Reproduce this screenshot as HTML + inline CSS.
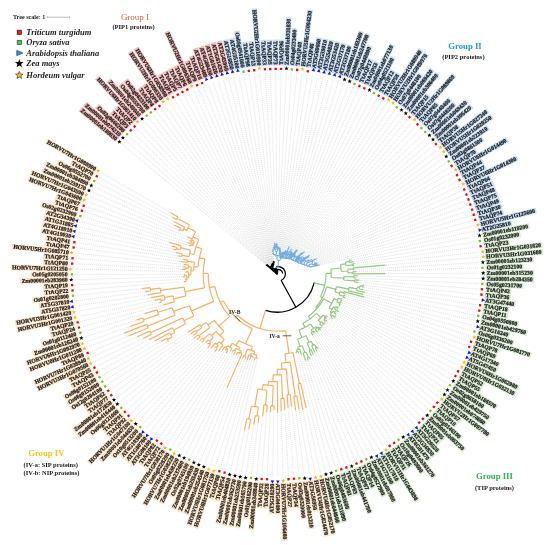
<!DOCTYPE html>
<html lang="en"><head><meta charset="utf-8"><title>Phylogenetic tree of aquaporins</title>
<style>html,body{margin:0;padding:0;background:#fff}body{width:550px;height:545px;overflow:hidden}</style>
</head><body>
<svg width="550" height="545" viewBox="0 0 550 545" style="display:block">
<rect width="550" height="545" fill="#fff"/>
<g stroke="#c2c2c2" stroke-width="0.5" stroke-dasharray="1 1" fill="none">
<path d="M265.5 264.4L122.2 144.2"/>
<path d="M266.4 264.6L125.7 140.1"/>
<path d="M266.4 264.1L129.3 136.2"/>
<path d="M269.5 266.6L132.9 132.4"/>
<path d="M269.3 266.0L136.7 128.7"/>
<path d="M269.8 266.1L140.6 125.0"/>
<path d="M270.4 266.4L144.5 121.5"/>
<path d="M270.2 265.8L148.6 118.1"/>
<path d="M271.0 266.3L152.7 114.7"/>
<path d="M270.9 265.7L156.9 111.5"/>
<path d="M271.5 266.1L161.2 108.4"/>
<path d="M270.7 264.4L165.6 105.5"/>
<path d="M271.0 264.3L170.1 102.6"/>
<path d="M271.6 264.6L174.6 99.8"/>
<path d="M271.2 263.4L179.2 97.2"/>
<path d="M271.5 263.3L183.9 94.7"/>
<path d="M272.1 263.7L188.6 92.3"/>
<path d="M271.9 262.4L193.4 90.1"/>
<path d="M272.2 262.3L198.3 87.9"/>
<path d="M272.7 262.7L203.2 85.9"/>
<path d="M273.0 262.6L208.2 84.0"/>
<path d="M273.1 262.0L213.2 82.3"/>
<path d="M273.1 260.7L218.2 80.7"/>
<path d="M273.4 260.6L223.3 79.2"/>
<path d="M273.9 261.1L228.4 77.9"/>
<path d="M272.4 252.3L233.6 76.7"/>
<path d="M272.4 249.6L238.8 75.6"/>
<path d="M272.8 247.7L244.0 74.6"/>
<path d="M273.3 246.1L249.3 73.8"/>
<path d="M273.9 245.1L254.5 73.2"/>
<path d="M274.4 242.2L259.8 72.7"/>
<path d="M275.4 243.7L265.1 72.3"/>
<path d="M276.1 242.2L270.4 72.0"/>
<path d="M277.0 243.3L275.7 71.9"/>
<path d="M277.7 245.6L281.0 71.9"/>
<path d="M278.5 246.4L286.3 72.1"/>
<path d="M279.1 247.1L291.6 72.4"/>
<path d="M279.9 246.8L296.9 72.9"/>
<path d="M280.5 247.6L302.1 73.4"/>
<path d="M280.8 250.6L307.4 74.2"/>
<path d="M281.1 252.6L312.6 75.0"/>
<path d="M281.6 252.6L317.8 76.0"/>
<path d="M282.4 251.7L323.0 77.2"/>
<path d="M283.2 251.3L328.2 78.4"/>
<path d="M283.6 252.0L333.3 79.8"/>
<path d="M284.4 251.7L338.4 81.4"/>
<path d="M285.7 249.8L343.4 83.0"/>
<path d="M286.1 250.5L348.4 84.8"/>
<path d="M286.7 250.8L353.3 86.8"/>
<path d="M289.6 245.7L358.2 88.8"/>
<path d="M288.3 250.5L363.0 91.0"/>
<path d="M287.8 253.1L367.8 93.3"/>
<path d="M289.5 251.1L372.5 95.8"/>
<path d="M291.9 248.3L377.2 98.3"/>
<path d="M289.7 253.5L381.7 101.0"/>
<path d="M292.0 251.0L386.2 103.8"/>
<path d="M292.5 251.6L390.7 106.7"/>
<path d="M292.8 252.4L395.0 109.8"/>
<path d="M292.2 254.4L399.3 112.9"/>
<path d="M297.1 249.2L403.5 116.2"/>
<path d="M297.9 249.6L407.6 119.5"/>
<path d="M295.8 253.2L411.6 123.0"/>
<path d="M295.4 254.7L415.5 126.6"/>
<path d="M295.8 255.4L419.3 130.2"/>
<path d="M296.7 255.4L423.1 134.0"/>
<path d="M297.1 256.1L426.7 137.9"/>
<path d="M302.8 252.0L430.2 141.9"/>
<path d="M305.1 251.3L433.6 145.9"/>
<path d="M300.6 256.0L436.9 150.1"/>
<path d="M300.5 257.1L440.1 154.3"/>
<path d="M303.0 256.2L443.2 158.6"/>
<path d="M302.0 257.9L446.2 163.0"/>
<path d="M304.8 257.1L449.0 167.5"/>
<path d="M310.0 255.0L451.8 172.0"/>
<path d="M309.5 256.4L454.4 176.6"/>
<path d="M305.8 259.4L456.9 181.3"/>
<path d="M306.9 259.8L459.3 186.0"/>
<path d="M309.5 259.6L461.5 190.8"/>
<path d="M312.2 259.5L463.6 195.7"/>
<path d="M317.2 258.6L465.6 200.6"/>
<path d="M314.0 260.9L467.5 205.6"/>
<path d="M313.4 262.2L469.2 210.6"/>
<path d="M316.0 262.5L470.8 215.6"/>
<path d="M318.1 263.0L472.3 220.7"/>
<path d="M317.6 264.3L473.6 225.9"/>
<path d="M320.1 264.8L474.8 231.0"/>
<path d="M352.3 259.9L475.9 236.2"/>
<path d="M354.1 261.6L476.8 241.5"/>
<path d="M355.1 263.5L477.6 246.7"/>
<path d="M354.6 265.6L478.3 252.0"/>
<path d="M385.9 265.1L478.8 257.2"/>
<path d="M354.9 269.7L479.2 262.5"/>
<path d="M357.0 271.7L479.4 267.8"/>
<path d="M385.6 273.6L479.5 273.1"/>
<path d="M358.5 275.9L479.5 278.4"/>
<path d="M357.3 278.0L479.3 283.7"/>
<path d="M359.8 280.3L479.0 289.0"/>
<path d="M358.8 282.4L478.5 294.3"/>
<path d="M364.5 285.2L477.9 299.6"/>
<path d="M364.0 287.5L477.2 304.8"/>
<path d="M363.8 289.8L476.3 310.1"/>
<path d="M365.2 292.5L475.3 315.3"/>
<path d="M363.6 294.5L474.1 320.5"/>
<path d="M364.8 297.2L472.9 325.6"/>
<path d="M346.2 294.3L471.4 330.7"/>
<path d="M345.7 296.1L469.9 335.8"/>
<path d="M345.7 298.1L468.2 340.8"/>
<path d="M342.9 299.1L466.4 345.8"/>
<path d="M342.4 300.9L464.5 350.7"/>
<path d="M342.1 302.7L462.4 355.6"/>
<path d="M341.3 304.4L460.2 360.5"/>
<path d="M340.5 306.1L457.9 365.2"/>
<path d="M339.1 307.5L455.4 369.9"/>
<path d="M338.8 309.4L452.8 374.6"/>
<path d="M339.4 312.0L450.2 379.1"/>
<path d="M336.9 312.6L447.3 383.6"/>
<path d="M336.7 314.7L444.4 388.1"/>
<path d="M336.2 316.7L441.4 392.4"/>
<path d="M335.5 318.5L438.2 396.7"/>
<path d="M333.2 319.2L435.0 400.8"/>
<path d="M328.0 317.2L431.6 404.9"/>
<path d="M326.9 318.6L428.1 408.9"/>
<path d="M327.4 321.5L424.5 412.8"/>
<path d="M325.6 322.2L420.8 416.7"/>
<path d="M325.5 324.7L417.1 420.4"/>
<path d="M323.7 325.4L413.2 424.0"/>
<path d="M322.8 327.1L409.2 427.5"/>
<path d="M321.6 328.5L405.1 430.9"/>
<path d="M321.0 330.8L401.0 434.2"/>
<path d="M318.8 331.0L396.7 437.4"/>
<path d="M318.0 333.1L392.4 440.5"/>
<path d="M315.5 332.8L388.0 443.4"/>
<path d="M314.1 333.9L383.6 446.3"/>
<path d="M313.1 335.8L379.0 449.0"/>
<path d="M318.3 349.2L374.4 451.6"/>
<path d="M317.2 352.0L369.7 454.1"/>
<path d="M315.1 353.0L365.0 456.5"/>
<path d="M313.6 355.1L360.1 458.7"/>
<path d="M311.6 356.5L355.3 460.8"/>
<path d="M310.1 359.1L350.4 462.8"/>
<path d="M308.3 361.0L345.4 464.7"/>
<path d="M305.7 361.0L340.4 466.4"/>
<path d="M301.5 355.3L335.3 468.0"/>
<path d="M298.8 353.8L330.2 469.4"/>
<path d="M296.5 353.4L325.1 470.8"/>
<path d="M306.2 408.5L319.9 471.9"/>
<path d="M303.0 410.7L314.7 473.0"/>
<path d="M299.1 410.0L309.5 473.9"/>
<path d="M295.7 411.0L304.2 474.7"/>
<path d="M291.6 407.1L299.0 475.3"/>
<path d="M288.2 408.2L293.7 475.8"/>
<path d="M284.8 410.8L288.4 476.2"/>
<path d="M281.2 412.0L283.1 476.4"/>
<path d="M277.6 413.4L277.8 476.5"/>
<path d="M274.0 410.8L272.5 476.4"/>
<path d="M270.3 412.7L267.2 476.3"/>
<path d="M266.7 412.8L261.9 475.9"/>
<path d="M262.6 416.7L256.6 475.5"/>
<path d="M258.0 423.4L251.4 474.8"/>
<path d="M253.7 425.2L246.1 474.1"/>
<path d="M248.8 429.8L240.9 473.2"/>
<path d="M244.4 430.8L235.7 472.2"/>
<path d="M256.9 359.6L230.5 471.0"/>
<path d="M254.2 360.9L225.4 469.7"/>
<path d="M252.5 358.3L220.2 468.3"/>
<path d="M249.5 360.3L215.2 466.8"/>
<path d="M246.9 360.4L210.1 465.1"/>
<path d="M244.9 359.0L205.2 463.2"/>
<path d="M242.3 358.9L200.2 461.3"/>
<path d="M226.8 388.2L195.4 459.2"/>
<path d="M239.1 354.6L190.5 457.0"/>
<path d="M235.9 355.7L185.8 454.7"/>
<path d="M233.4 355.3L181.1 452.2"/>
<path d="M232.3 352.4L176.4 449.6"/>
<path d="M230.0 351.7L171.9 446.9"/>
<path d="M226.1 353.3L167.4 444.1"/>
<path d="M225.0 350.5L163.0 441.2"/>
<path d="M221.7 351.0L158.6 438.1"/>
<path d="M218.5 351.1L154.4 434.9"/>
<path d="M214.5 352.0L150.2 431.7"/>
<path d="M214.2 348.2L146.1 428.3"/>
<path d="M210.6 348.4L142.1 424.8"/>
<path d="M207.4 348.0L138.2 421.2"/>
<path d="M207.5 344.2L134.4 417.5"/>
<path d="M205.3 342.7L130.7 413.7"/>
<path d="M201.6 342.5L127.1 409.8"/>
<path d="M199.4 340.9L123.6 405.9"/>
<path d="M196.4 339.8L120.2 401.8"/>
<path d="M193.4 338.7L116.9 397.6"/>
<path d="M193.0 335.6L113.7 393.4"/>
<path d="M190.2 334.2L110.7 389.1"/>
<path d="M187.8 332.5L107.7 384.6"/>
<path d="M167.2 341.8L104.9 380.2"/>
<path d="M160.1 342.0L102.2 375.6"/>
<path d="M154.2 341.2L99.6 371.0"/>
<path d="M148.9 339.8L97.1 366.3"/>
<path d="M142.9 338.5L94.7 361.5"/>
<path d="M136.7 337.0L92.5 356.7"/>
<path d="M128.0 336.2L90.4 351.9"/>
<path d="M123.9 333.3L88.4 346.9"/>
<path d="M129.8 326.6L86.6 342.0"/>
<path d="M136.0 320.3L84.9 336.9"/>
<path d="M144.4 313.7L83.3 331.9"/>
<path d="M162.9 305.0L81.9 326.8"/>
<path d="M158.8 302.8L80.5 321.6"/>
<path d="M154.1 300.5L79.4 316.5"/>
<path d="M150.4 297.8L78.3 311.3"/>
<path d="M147.1 294.9L77.4 306.0"/>
<path d="M144.6 291.8L76.7 300.8"/>
<path d="M141.2 288.6L76.0 295.5"/>
<path d="M183.4 281.7L75.5 290.2"/>
<path d="M184.7 279.1L75.2 285.0"/>
<path d="M182.3 276.8L75.0 279.7"/>
<path d="M183.3 274.3L74.9 274.4"/>
<path d="M184.9 271.8L75.0 269.0"/>
<path d="M181.2 269.2L75.2 263.7"/>
<path d="M182.6 266.8L75.5 258.5"/>
<path d="M183.2 264.4L76.0 253.2"/>
<path d="M180.1 261.5L76.6 247.9"/>
<path d="M182.7 259.3L77.4 242.7"/>
<path d="M177.5 255.8L78.3 237.4"/>
<path d="M175.3 252.6L79.3 232.2"/>
<path d="M172.6 249.1L80.5 227.1"/>
<path d="M171.7 246.0L81.8 221.9"/>
<path d="M168.8 242.1L83.2 216.8"/>
<path d="M188.4 245.4L84.8 211.7"/>
<path d="M187.2 242.4L86.5 206.7"/>
<path d="M189.0 240.4L88.3 201.7"/>
<path d="M186.5 236.7L90.3 196.8"/>
<path d="M178.0 230.0L92.4 191.9"/>
<path d="M173.5 224.8L94.6 187.1"/>
<path d="M173.3 221.3L96.9 182.4"/>
<path d="M171.8 217.0L99.4 177.7"/>
<path d="M170.1 212.3L102.0 173.0"/>
</g>
<path d="M277.1 260.2A14.0 14.0 0 0 1 280.0 260.5M277.1 260.2L277.1 255.6M275.0 255.7A18.6 18.6 0 0 1 279.1 255.7M275.0 255.7L274.9 254.2M273.3 254.5A20.1 20.1 0 0 1 276.5 254.1M273.3 254.5L273.1 253.7M272.7 253.8A20.9 20.9 0 0 1 273.5 253.6M272.7 253.8L272.5 252.8M273.5 253.6L273.1 251.5M272.8 251.6A23.1 23.1 0 0 1 273.4 251.4M272.8 251.6L272.5 250.1M273.4 251.4L272.9 248.2M276.5 254.1L276.4 251.5M275.5 251.5A22.8 22.8 0 0 1 277.3 251.4M275.5 251.5L275.3 249.5M274.6 249.6A24.7 24.7 0 0 1 276.0 249.5M274.6 249.6L274.4 248.1M273.9 248.2A26.2 26.2 0 0 1 274.9 248.1M273.9 248.2L273.8 247.6M273.5 247.6A26.8 26.8 0 0 1 274.2 247.5M273.5 247.6L273.4 246.6M274.2 247.5L274.0 245.6M274.9 248.1L274.5 242.7M276.0 249.5L275.9 246.5M275.5 246.5A27.8 27.8 0 0 1 276.3 246.4M275.5 246.5L275.4 244.2M276.3 246.4L276.1 242.7M277.3 251.4L277.3 247.8M277.0 247.8A26.4 26.4 0 0 1 277.7 247.8M277.0 247.8L277.0 243.8M277.7 247.8L277.7 246.1M279.1 255.7L279.6 250.9M279.0 250.8A23.4 23.4 0 0 1 280.1 250.9M279.0 250.8L279.1 249.3M278.6 249.3A24.9 24.9 0 0 1 279.6 249.4M278.6 249.3L278.7 248.5M278.4 248.5A25.7 25.7 0 0 1 279.0 248.6M278.4 248.5L278.4 246.9M279.0 248.6L279.1 247.6M279.6 249.4L279.8 247.3M280.1 250.9L280.4 248.1M280.0 260.5L280.5 258.0M279.7 257.9A16.5 16.5 0 0 1 281.4 258.2M279.7 257.9L280.7 251.1M281.4 258.2L281.5 258.1M280.7 257.9A16.7 16.7 0 0 1 282.2 258.3M280.7 257.9L281.3 254.7M281.0 254.6A20.0 20.0 0 0 1 281.7 254.8M281.0 254.6L281.1 254.1M280.8 254.0A20.5 20.5 0 0 1 281.3 254.1M280.8 254.0L281.0 253.0M281.3 254.1L281.5 253.1M281.7 254.8L282.3 252.2M282.2 258.3L282.4 257.8M281.5 257.5A17.2 17.2 0 0 1 283.3 258.1M281.5 257.5L283.0 251.8M283.3 258.1L283.3 257.9M282.3 257.5A17.4 17.4 0 0 1 284.4 258.3M282.3 257.5L283.2 254.3M283.0 254.2A20.8 20.8 0 0 1 283.5 254.4M283.0 254.2L283.5 252.5M283.5 254.4L284.2 252.1M284.4 258.3L284.6 258.0M283.4 257.5A17.8 17.8 0 0 1 285.7 258.6M283.4 257.5L284.4 254.6M284.0 254.5A20.9 20.9 0 0 1 284.8 254.8M284.0 254.5L285.5 250.3M284.8 254.8L285.9 252.1M285.6 251.9A23.8 23.8 0 0 1 286.1 252.2M285.6 251.9L285.9 251.0M286.1 252.2L286.5 251.2M285.7 258.6L286.0 258.1M284.9 257.5A18.4 18.4 0 0 1 287.1 258.7M284.9 257.5L286.0 255.0M285.7 254.8A21.1 21.1 0 0 1 286.4 255.2M285.7 254.8L289.4 246.2M286.4 255.2L286.8 254.3M286.6 254.2A22.1 22.1 0 0 1 287.1 254.5M286.6 254.2L288.1 250.9M287.1 254.5L287.5 253.6M287.1 258.7L287.4 258.2M286.3 257.6A18.9 18.9 0 0 1 288.4 258.9M286.3 257.6L289.1 252.6M288.8 252.5A24.6 24.6 0 0 1 289.4 252.8M288.8 252.5L289.3 251.5M289.4 252.8L291.7 248.8M288.4 258.9L288.6 258.6M287.7 258.0A19.3 19.3 0 0 1 289.4 259.2M287.7 258.0L289.3 255.6M288.9 255.4A22.2 22.2 0 0 1 289.6 255.9M288.9 255.4L289.2 254.9M288.9 254.8A22.7 22.7 0 0 1 289.4 255.1M288.9 254.8L289.5 253.9M289.4 255.1L291.8 251.4M289.6 255.9L292.2 252.0M289.4 259.2L289.9 258.7M289.1 258.1A20.0 20.0 0 0 1 290.6 259.3M289.1 258.1L291.1 255.4M290.8 255.2A23.4 23.4 0 0 1 291.3 255.6M290.8 255.2L292.6 252.8M291.3 255.6L291.9 254.8M290.6 259.3L291.0 259.0M290.0 258.1A20.6 20.6 0 0 1 291.9 259.8M290.0 258.1L296.8 249.6M291.9 259.8L292.1 259.6M290.9 258.5A20.8 20.8 0 0 1 293.2 260.8M290.9 258.5L292.6 256.6M292.3 256.3A23.4 23.4 0 0 1 293.0 256.9M292.3 256.3L297.6 250.0M293.0 256.9L294.2 255.6M293.9 255.4A25.2 25.2 0 0 1 294.4 255.8M293.9 255.4L295.5 253.6M294.4 255.8L295.1 255.1M293.2 260.8L293.8 260.3M292.8 259.3A21.6 21.6 0 0 1 294.6 261.4M292.8 259.3L294.5 257.6M294.0 257.1A24.0 24.0 0 0 1 295.0 258.2M294.0 257.1L295.4 255.7M295.0 258.2L295.6 257.6M295.3 257.3A24.8 24.8 0 0 1 295.9 258.0M295.3 257.3L295.7 256.9M295.5 256.6A25.4 25.4 0 0 1 296.0 257.1M295.5 256.6L296.4 255.8M296.0 257.1L296.7 256.4M295.9 258.0L302.5 252.4M294.6 261.4L295.5 260.8M294.9 260.1A22.7 22.7 0 0 1 296.0 261.6M294.9 260.1L298.1 257.5M297.9 257.2A26.8 26.8 0 0 1 298.3 257.8M297.9 257.2L304.7 251.6M298.3 257.8L300.2 256.3M296.0 261.6L296.5 261.3M295.9 260.4A23.2 23.2 0 0 1 297.0 262.1M295.9 260.4L300.1 257.4M297.0 262.1L297.2 262.0M296.6 261.0A23.5 23.5 0 0 1 297.8 262.9M296.6 261.0L300.4 258.5M300.2 258.2A28.0 28.0 0 0 1 300.6 258.8M300.2 258.2L302.6 256.5M300.6 258.8L301.6 258.2M297.8 262.9L298.3 262.7M297.8 261.8A24.0 24.0 0 0 1 298.7 263.6M297.8 261.8L303.0 258.6M302.8 258.3A30.1 30.1 0 0 1 303.2 259.0M302.8 258.3L304.3 257.3M303.2 259.0L309.6 255.3M298.7 263.6L300.5 262.7M300.0 261.7A26.0 26.0 0 0 1 301.0 263.8M300.0 261.7L309.1 256.6M301.0 263.8L301.9 263.4M301.3 262.1A27.0 27.0 0 0 1 302.5 264.7M301.3 262.1L304.6 260.5M304.4 260.1A30.7 30.7 0 0 1 304.8 260.8M304.4 260.1L305.3 259.7M304.8 260.8L306.5 260.0M302.5 264.7L304.4 264.0M303.8 262.6A29.0 29.0 0 0 1 304.9 265.5M303.8 262.6L307.6 260.9M307.4 260.5A33.2 33.2 0 0 1 307.8 261.3M307.4 260.5L309.1 259.8M307.8 261.3L311.8 259.6M304.9 265.5L306.8 264.8M306.3 263.3A31.1 31.1 0 0 1 307.3 266.4M306.3 263.3L311.8 261.2M311.6 260.8A37.0 37.0 0 0 1 312.0 261.7M311.6 260.8L316.7 258.8M312.0 261.7L313.5 261.1M307.3 266.4L309.4 265.9M309.0 264.7A33.2 33.2 0 0 1 309.6 267.1M309.0 264.7L312.1 263.8M311.8 262.7A36.4 36.4 0 0 1 312.4 264.8M311.8 262.7L312.9 262.4M312.4 264.8L314.3 264.3M314.0 263.6A38.3 38.3 0 0 1 314.4 265.0M314.0 263.6L314.7 263.4M314.5 262.9A39.0 39.0 0 0 1 314.8 263.9M314.5 262.9L315.5 262.6M314.8 263.9L317.6 263.1M314.4 265.0L317.2 264.4M309.6 267.1L319.6 264.9" fill="none" stroke="#74ace4" stroke-width="1.1" stroke-linejoin="round"/>
<path d="M326.0 273.3A48.8 48.8 0 0 1 320.4 296.8M326.0 273.3L331.2 273.2M330.9 269.0A54.0 54.0 0 0 1 331.1 277.5M330.9 269.0L340.9 268.0M340.5 264.7A64.0 64.0 0 0 1 341.2 271.3M340.5 264.7L345.6 263.9M345.4 262.1A69.2 69.2 0 0 1 345.9 265.7M345.4 262.1L349.4 261.4M349.2 260.4A73.3 73.3 0 0 1 349.5 262.3M349.2 260.4L351.8 260.0M349.5 262.3L353.6 261.7M345.9 265.7L352.7 264.9M352.6 263.9A76.1 76.1 0 0 1 352.8 265.8M352.6 263.9L354.6 263.6M352.8 265.8L354.1 265.7M341.2 271.3L347.9 271.0M347.8 269.2A70.8 70.8 0 0 1 348.0 272.9M347.8 269.2L353.2 268.8M353.1 267.8A76.1 76.1 0 0 1 353.2 269.8M353.1 267.8L385.4 265.1M353.2 269.8L354.4 269.7M348.0 272.9L352.7 272.8M352.7 271.8A75.5 75.5 0 0 1 352.7 273.8M352.7 271.8L356.5 271.7M352.7 273.8L385.1 273.6M331.1 277.5L343.8 278.2M343.9 276.5A66.7 66.7 0 0 1 343.7 280.0M343.9 276.5L353.8 276.8M353.8 275.8A76.6 76.6 0 0 1 353.7 277.8M353.8 275.8L358.0 275.9M353.7 277.8L356.8 278.0M343.7 280.0L354.4 280.9M354.4 279.9A77.5 77.5 0 0 1 354.3 281.9M354.4 279.9L359.3 280.2M354.3 281.9L358.3 282.3M320.4 296.8L322.4 297.8M326.6 286.9A51.0 51.0 0 0 1 315.8 307.5M326.6 286.9L335.9 289.3M336.5 286.6A60.6 60.6 0 0 1 335.1 291.9M336.5 286.6L348.7 289.1M349.0 287.4A73.0 73.0 0 0 1 348.3 290.9M349.0 287.4L357.0 288.9M357.3 287.0A81.1 81.1 0 0 1 356.6 290.7M357.3 287.0L359.7 287.4M359.9 285.8A83.5 83.5 0 0 1 359.4 289.0M359.9 285.8L362.7 286.2M362.8 285.0A86.3 86.3 0 0 1 362.5 287.3M362.8 285.0L364.0 285.2M362.5 287.3L363.5 287.4M359.4 289.0L363.3 289.7M356.6 290.7L364.7 292.4M348.3 290.9L363.1 294.4M335.1 291.9L339.4 293.2M339.9 291.6A65.1 65.1 0 0 1 338.9 294.8M339.9 291.6L343.6 292.6M343.9 291.7A68.9 68.9 0 0 1 343.4 293.5M343.9 291.7L364.3 297.1M343.4 293.5L345.8 294.1M338.9 294.8L343.3 296.3M343.6 295.4A69.7 69.7 0 0 1 343.0 297.1M343.6 295.4L345.2 295.9M343.0 297.1L345.2 297.9M315.8 307.5L316.9 308.5M323.6 298.9A52.5 52.5 0 0 1 308.3 316.5M323.6 298.9L331.7 303.2M334.0 298.5A61.7 61.7 0 0 1 329.1 307.7M334.0 298.5L337.6 300.1M338.3 298.3A65.7 65.7 0 0 1 336.8 301.8M338.3 298.3L341.0 299.3M341.3 298.5A68.5 68.5 0 0 1 340.6 300.1M341.3 298.5L342.5 298.9M340.6 300.1L342.0 300.7M336.8 301.8L339.4 303.0M340.0 301.8A68.6 68.6 0 0 1 338.9 304.3M340.0 301.8L341.6 302.5M338.9 304.3L339.6 304.6M340.0 303.8A69.4 69.4 0 0 1 339.2 305.4M340.0 303.8L340.9 304.2M339.2 305.4L340.1 305.9M329.1 307.7L332.0 309.6M333.6 306.9A65.2 65.2 0 0 1 330.2 312.1M333.6 306.9L335.1 307.8M335.7 306.6A66.9 66.9 0 0 1 334.4 308.9M335.7 306.6L337.3 307.5M337.7 306.7A68.7 68.7 0 0 1 336.8 308.3M337.7 306.7L338.7 307.2M336.8 308.3L338.4 309.2M334.4 308.9L339.0 311.7M330.2 312.1L331.5 313.1M332.9 311.1A66.8 66.8 0 0 1 330.1 315.0M332.9 311.1L334.6 312.2M335.1 311.5A68.9 68.9 0 0 1 334.1 313.0M335.1 311.5L336.4 312.3M334.1 313.0L336.3 314.4M330.1 315.0L331.8 316.3M332.6 315.2A68.9 68.9 0 0 1 330.9 317.3M332.6 315.2L334.4 316.5M335.0 315.8A71.2 71.2 0 0 1 333.9 317.3M335.0 315.8L335.8 316.4M333.9 317.3L335.1 318.2M330.9 317.3L332.8 318.8M308.3 316.5L310.1 318.9M316.5 313.3A55.5 55.5 0 0 1 302.9 323.4M316.5 313.3L320.8 317.6M323.2 315.0A61.5 61.5 0 0 1 318.2 320.0M323.2 315.0L325.3 316.9M326.3 315.7A64.3 64.3 0 0 1 324.3 317.9M326.3 315.7L327.6 316.9M324.3 317.9L324.9 318.5M325.8 317.6A65.2 65.2 0 0 1 324.1 319.5M325.8 317.6L326.6 318.3M324.1 319.5L325.2 320.5M325.8 319.9A66.7 66.7 0 0 1 324.6 321.2M325.8 319.9L327.1 321.1M324.6 321.2L325.3 321.9M318.2 320.0L320.6 322.6M321.5 321.8A65.0 65.0 0 0 1 319.6 323.5M321.5 321.8L323.2 323.5M323.8 322.9A67.4 67.4 0 0 1 322.5 324.1M323.8 322.9L325.2 324.4M322.5 324.1L323.4 325.1M319.6 323.5L322.4 326.7M302.9 323.4L305.0 327.4M310.6 324.0A60.0 60.0 0 0 1 299.0 330.1M310.6 324.0L313.6 328.4M315.9 326.7A65.2 65.2 0 0 1 311.1 329.9M315.9 326.7L316.9 328.1M318.5 326.9A67.0 67.0 0 0 1 315.3 329.2M318.5 326.9L319.3 327.9M320.4 327.1A68.3 68.3 0 0 1 318.3 328.8M320.4 327.1L321.2 328.1M318.3 328.8L318.6 329.2M319.4 328.7A68.9 68.9 0 0 1 317.9 329.8M319.4 328.7L320.7 330.4M317.9 329.8L318.5 330.6M315.3 329.2L317.7 332.7M311.1 329.9L312.3 331.8M313.4 331.1A67.5 67.5 0 0 1 311.2 332.5M313.4 331.1L314.0 332.0M314.7 331.5A68.5 68.5 0 0 1 313.2 332.5M314.7 331.5L315.3 332.3M313.2 332.5L313.8 333.5M311.2 332.5L312.8 335.4M299.0 330.1L301.9 337.6M306.1 335.8A68.0 68.0 0 0 1 297.6 339.1M306.1 335.8L309.1 342.2M311.1 341.2A75.1 75.1 0 0 1 307.1 343.1M311.1 341.2L313.1 345.1M314.5 344.4A79.5 79.5 0 0 1 311.7 345.8M314.5 344.4L316.2 347.6M317.1 347.1A83.1 83.1 0 0 1 315.2 348.1M317.1 347.1L318.1 348.8M315.2 348.1L317.0 351.6M311.7 345.8L314.9 352.5M307.1 343.1L310.1 349.9M311.0 349.5A82.5 82.5 0 0 1 309.1 350.3M311.0 349.5L313.3 354.6M309.1 350.3L311.4 356.0M297.6 339.1L300.0 346.6M302.3 345.8A75.9 75.9 0 0 1 297.6 347.3M302.3 345.8L304.7 352.6M306.2 352.0A83.1 83.1 0 0 1 303.1 353.1M306.2 352.0L308.3 357.5M309.4 357.1A88.9 88.9 0 0 1 307.2 357.9M309.4 357.1L310.0 358.7M307.2 357.9L308.1 360.5M303.1 353.1L305.6 360.6M297.6 347.3L298.1 349.3M299.6 348.9A78.0 78.0 0 0 1 296.6 349.7M299.6 348.9L301.4 354.8M296.6 349.7L297.2 351.7M298.2 351.4A80.0 80.0 0 0 1 296.1 351.9M298.2 351.4L298.7 353.3M296.1 351.9L296.4 352.9" fill="none" stroke="#93ca80" stroke-width="1.2" stroke-linejoin="round"/>
<path d="M285.6 330.6A57.0 57.0 0 0 1 237.6 315.2M285.6 330.6L289.0 353.2M293.0 352.5A79.9 79.9 0 0 1 285.0 353.7M293.0 352.5L299.3 383.4M300.7 383.1A111.4 111.4 0 0 1 297.9 383.6M300.7 383.1L306.1 408.0M297.9 383.6L302.9 410.2M285.0 353.7L285.9 362.7M290.2 362.2A88.9 88.9 0 0 1 281.5 363.0M290.2 362.2L295.3 396.2M296.9 395.9A123.3 123.3 0 0 1 293.7 396.4M296.9 395.9L299.1 409.5M293.7 396.4L295.6 410.5M281.5 363.0L281.8 369.2M286.2 368.9A95.1 95.1 0 0 1 277.3 369.3M286.2 368.9L288.6 394.6M290.2 394.4A120.9 120.9 0 0 1 287.1 394.7M290.2 394.4L291.5 406.6M287.1 394.7L288.1 407.7M277.3 369.3L277.3 374.8M281.5 374.7A100.6 100.6 0 0 1 273.2 374.8M281.5 374.7L282.5 398.4M284.1 398.4A124.3 124.3 0 0 1 280.8 398.5M284.1 398.4L284.8 410.3M280.8 398.5L281.2 411.5M273.2 374.8L272.9 381.5M277.5 381.6A107.4 107.4 0 0 1 268.4 381.3M277.5 381.6L277.6 412.9M268.4 381.3L268.1 385.2M273.2 385.5A111.3 111.3 0 0 1 263.0 384.6M273.2 385.5L272.4 405.8M274.1 405.8A131.7 131.7 0 0 1 270.7 405.7M274.1 405.8L274.0 410.3M270.7 405.7L270.4 412.2M263.0 384.6L262.3 389.5M266.9 390.0A116.3 116.3 0 0 1 257.8 388.9M266.9 390.0L265.6 404.8M267.3 404.9A131.1 131.1 0 0 1 263.9 404.6M267.3 404.9L266.7 412.3M263.9 404.6L262.7 416.2M257.8 388.9L254.8 406.6M258.3 407.1A134.3 134.3 0 0 1 251.4 406.0M258.3 407.1L257.0 416.0M258.9 416.2A143.2 143.2 0 0 1 255.2 415.7M258.9 416.2L258.1 422.9M255.2 415.7L253.8 424.7M251.4 406.0L248.8 418.9M250.7 419.3A147.5 147.5 0 0 1 246.9 418.5M250.7 419.3L248.9 429.4M246.9 418.5L244.5 430.3M237.6 315.2L235.5 317.4M252.3 328.8A60.0 60.0 0 0 1 223.5 300.9M252.3 328.8L245.4 344.0M252.4 346.8A76.7 76.7 0 0 1 238.8 340.6M252.4 346.8L251.1 350.4M254.8 351.6A80.6 80.6 0 0 1 247.5 349.1M254.8 351.6L254.0 354.2M256.9 355.0A83.3 83.3 0 0 1 251.1 353.3M256.9 355.0L256.2 357.9M257.3 358.2A86.3 86.3 0 0 1 255.1 357.6M257.3 358.2L257.1 359.1M255.1 357.6L254.3 360.4M251.1 353.3L250.5 355.2M252.1 355.7A85.3 85.3 0 0 1 248.9 354.7M252.1 355.7L251.9 356.6M252.9 356.9A86.2 86.2 0 0 1 250.8 356.2M252.9 356.9L252.7 357.9M250.8 356.2L249.6 359.9M248.9 354.7L247.1 360.0M247.5 349.1L244.9 355.6M246.0 356.1A87.6 87.6 0 0 1 243.9 355.2M246.0 356.1L245.1 358.6M243.9 355.2L242.5 358.5M238.8 340.6L236.0 345.4M239.8 347.5A82.3 82.3 0 0 1 232.3 343.2M239.8 347.5L238.6 349.8M241.3 351.1A84.9 84.9 0 0 1 235.9 348.3M241.3 351.1L240.5 352.9M242.1 353.6A86.9 86.9 0 0 1 239.0 352.2M242.1 353.6L227.0 387.7M239.0 352.2L238.7 352.7M239.7 353.2A87.5 87.5 0 0 1 237.7 352.2M239.7 353.2L239.3 354.1M237.7 352.2L236.1 355.3M235.9 348.3L234.6 350.7M235.6 351.2A87.6 87.6 0 0 1 233.6 350.1M235.6 351.2L233.7 354.8M233.6 350.1L232.5 352.0M232.3 343.2L229.7 347.1M231.9 348.5A87.0 87.0 0 0 1 227.6 345.7M231.9 348.5L230.2 351.2M227.6 345.7L226.2 347.7M227.6 348.7A89.5 89.5 0 0 1 224.7 346.7M227.6 348.7L226.8 349.9M227.8 350.6A90.9 90.9 0 0 1 225.9 349.2M227.8 350.6L226.3 352.9M225.9 349.2L225.3 350.1M224.7 346.7L222.0 350.6M223.5 300.9L220.4 302.5M229.7 316.4A63.5 63.5 0 0 1 214.9 286.6M229.7 316.4L218.8 326.1M223.9 331.3A78.1 78.1 0 0 1 214.2 320.4M223.9 331.3L219.9 335.6M224.3 339.4A83.9 83.9 0 0 1 215.9 331.5M224.3 339.4L221.0 343.5M223.0 345.1A89.2 89.2 0 0 1 219.0 341.8M223.0 345.1L218.8 350.7M219.0 341.8L216.8 344.2M218.2 345.4A92.4 92.4 0 0 1 215.5 343.0M218.2 345.4L216.3 347.7M217.3 348.5A95.4 95.4 0 0 1 215.4 346.9M217.3 348.5L214.8 351.6M215.4 346.9L214.5 347.9M215.5 343.0L211.0 348.1M215.9 331.5L211.5 335.6M213.3 337.5A89.9 89.9 0 0 1 209.7 333.6M213.3 337.5L209.5 341.3M210.8 342.6A95.3 95.3 0 0 1 208.2 339.9M210.8 342.6L209.4 344.0M210.4 344.9A97.3 97.3 0 0 1 208.5 343.1M210.4 344.9L207.7 347.7M208.5 343.1L207.8 343.8M208.2 339.9L205.7 342.3M209.7 333.6L203.5 339.1M204.3 340.0A98.2 98.2 0 0 1 202.6 338.1M204.3 340.0L201.9 342.2M202.6 338.1L199.7 340.6M214.2 320.4L207.9 325.0M209.8 327.5A85.9 85.9 0 0 1 206.2 322.5M209.8 327.5L199.1 335.9M200.0 337.0A99.5 99.5 0 0 1 198.3 334.9M200.0 337.0L196.8 339.5M198.3 334.9L193.8 338.4M206.2 322.5L200.7 326.2M201.8 327.7A92.5 92.5 0 0 1 199.7 324.7M201.8 327.7L196.4 331.5M197.2 332.5A99.0 99.0 0 0 1 195.7 330.4M197.2 332.5L193.4 335.3M195.7 330.4L190.6 333.9M199.7 324.7L188.2 332.2M214.9 286.6L209.5 287.7M213.8 301.4A69.0 69.0 0 0 1 208.2 273.4M213.8 301.4L191.5 310.9M193.8 316.0A93.2 93.2 0 0 1 189.5 305.7M193.8 316.0L184.1 320.8M185.6 323.7A104.1 104.1 0 0 1 182.7 317.9M185.6 323.7L173.6 330.2M174.9 332.6A117.8 117.8 0 0 1 172.3 327.8M174.9 332.6L170.8 334.9M172.0 337.0A122.5 122.5 0 0 1 169.6 332.8M172.0 337.0L167.6 339.6M168.5 341.0A127.6 127.6 0 0 1 166.8 338.2M168.5 341.0L167.7 341.6M166.8 338.2L160.6 341.8M169.6 332.8L154.7 341.0M172.3 327.8L149.3 339.6M182.7 317.9L150.6 332.8M151.4 334.4A139.5 139.5 0 0 1 149.8 331.1M151.4 334.4L143.3 338.3M149.8 331.1L137.2 336.8M189.5 305.7L173.5 311.4M174.9 315.2A110.2 110.2 0 0 1 172.3 307.7M174.9 315.2L147.5 326.1M148.2 327.8A139.7 139.7 0 0 1 146.8 324.4M148.2 327.8L128.5 336.0M146.8 324.4L124.3 333.1M172.3 307.7L157.8 312.3M158.6 314.6A125.3 125.3 0 0 1 157.1 309.9M158.6 314.6L143.5 319.8M144.1 321.5A141.2 141.2 0 0 1 142.9 318.0M144.1 321.5L130.3 326.4M142.9 318.0L136.5 320.1M157.1 309.9L144.8 313.6M208.2 273.4L203.2 273.4M204.5 287.9A74.0 74.0 0 0 1 204.8 258.9M204.5 287.9L185.0 291.6M185.9 295.9A93.9 93.9 0 0 1 184.2 287.1M185.9 295.9L173.7 298.8M174.4 301.9A106.4 106.4 0 0 1 173.0 295.8M174.4 301.9L163.4 304.8M173.0 295.8L164.6 297.5M165.1 299.7A115.0 115.0 0 0 1 164.2 295.3M165.1 299.7L161.1 300.6M161.4 302.1A119.1 119.1 0 0 1 160.8 299.1M161.4 302.1L159.3 302.6M160.8 299.1L154.6 300.4M164.2 295.3L150.9 297.7M184.2 287.1L160.6 290.4M160.9 292.7A117.7 117.7 0 0 1 160.3 288.1M160.9 292.7L147.6 294.9M160.3 288.1L150.5 289.3M150.7 291.0A127.6 127.6 0 0 1 150.3 287.7M150.7 291.0L145.1 291.7M150.3 287.7L141.7 288.6M204.8 258.9L199.3 257.8M197.9 267.0A79.6 79.6 0 0 1 201.8 248.8M197.9 267.0L194.0 266.6M193.7 271.0A83.5 83.5 0 0 1 194.5 262.3M193.7 271.0L191.0 270.9M190.9 274.8A86.3 86.3 0 0 1 191.2 266.9M190.9 274.8L188.7 274.8M188.7 277.7A88.5 88.5 0 0 1 188.7 271.9M188.7 277.7L186.7 277.8M186.9 280.2A90.5 90.5 0 0 1 186.7 275.5M186.9 280.2L186.3 280.2M186.3 281.4A91.1 91.1 0 0 1 186.2 279.0M186.3 281.4L183.8 281.6M186.2 279.0L185.2 279.1M186.7 275.5L184.8 275.5M184.8 276.7A92.4 92.4 0 0 1 184.8 274.3M184.8 276.7L182.8 276.7M184.8 274.3L183.8 274.3M188.7 271.9L185.4 271.9M191.2 266.9L188.3 266.7M188.2 268.4A89.2 89.2 0 0 1 188.5 264.9M188.2 268.4L185.3 268.2M185.2 269.4A92.1 92.1 0 0 1 185.4 267.0M185.2 269.4L181.7 269.3M185.4 267.0L183.1 266.9M188.5 264.9L183.7 264.4M194.5 262.3L187.6 261.3M187.4 262.4A90.6 90.6 0 0 1 187.7 260.1M187.4 262.4L180.5 261.5M187.7 260.1L183.2 259.4M201.8 248.8L196.0 246.9M193.8 254.5A85.7 85.7 0 0 1 198.8 239.5M193.8 254.5L189.7 253.5M189.0 256.7A90.0 90.0 0 0 1 190.5 250.4M189.0 256.7L181.9 255.3M181.7 256.5A97.1 97.1 0 0 1 182.2 254.0M181.7 256.5L178.0 255.9M182.2 254.0L175.8 252.7M190.5 250.4L180.7 247.7M180.2 249.6A100.1 100.1 0 0 1 181.3 245.8M180.2 249.6L176.3 248.6M176.0 250.0A104.0 104.0 0 0 1 176.7 247.3M176.0 250.0L173.1 249.3M176.7 247.3L172.1 246.1M181.3 245.8L169.3 242.3M198.8 239.5L193.1 236.9M190.9 242.4A92.0 92.0 0 0 1 195.6 231.6M190.9 242.4L193.5 243.3M192.7 245.5A89.2 89.2 0 0 1 194.3 241.2M192.7 245.5L190.7 244.9M190.3 246.0A91.4 91.4 0 0 1 191.1 243.7M190.3 246.0L188.9 245.5M191.1 243.7L187.7 242.5M194.3 241.2L191.6 240.1M191.1 241.2A92.2 92.2 0 0 1 192.0 238.9M191.1 241.2L189.5 240.6M192.0 238.9L187.0 236.8M195.6 231.6L188.2 227.7M186.8 230.4A100.4 100.4 0 0 1 189.6 225.1M186.8 230.4L183.8 228.9M182.9 230.8A103.8 103.8 0 0 1 184.7 227.1M182.9 230.8L179.9 229.4M179.4 230.7A107.1 107.1 0 0 1 180.5 228.1M179.4 230.7L178.4 230.2M180.5 228.1L174.0 225.0M184.7 227.1L173.7 221.5M189.6 225.1L177.2 218.2M176.4 219.5A114.7 114.7 0 0 1 177.9 216.9M176.4 219.5L172.2 217.2M177.9 216.9L170.5 212.6" fill="none" stroke="#f8b068" stroke-width="1.2" stroke-linejoin="round"/>
<path d="M273.7 271.2A4.6 4.6 0 0 1 274.0 271.0M273.7 271.2L268.6 266.8M268.5 266.9A11.3 11.3 0 0 1 268.7 266.7M268.5 266.9L265.9 264.7M268.7 266.7L266.8 265.0M274.0 271.0L273.5 270.5M273.3 270.6A5.3 5.3 0 0 1 273.6 270.4M273.3 270.6L266.8 264.5M273.6 270.4L273.3 270.1M273.1 270.2A5.7 5.7 0 0 1 273.4 269.9M273.1 270.2L269.8 267.0M273.4 269.9L273.2 269.6M273.0 269.8A6.1 6.1 0 0 1 273.3 269.5M273.0 269.8L270.9 267.4M270.8 267.5A9.3 9.3 0 0 1 270.9 267.4M270.8 267.5L269.6 266.3M270.9 267.4L270.1 266.5M273.3 269.5L273.1 269.2M272.9 269.3A6.5 6.5 0 0 1 273.2 269.1M272.9 269.3L270.7 266.8M273.2 269.1L273.0 268.7M272.8 268.9A6.9 6.9 0 0 1 273.1 268.6M272.8 268.9L270.6 266.1M273.1 268.6L272.8 268.2M272.6 268.4A7.4 7.4 0 0 1 273.1 268.0M272.6 268.4L271.3 266.7M273.1 268.0L272.8 267.7M272.6 267.9A7.8 7.8 0 0 1 273.1 267.5M272.6 267.9L271.2 266.1M273.1 267.5L272.8 267.0M272.4 267.3A8.4 8.4 0 0 1 273.3 266.8M272.4 267.3L271.8 266.5M273.3 266.8L273.0 266.2M272.5 266.5A9.0 9.0 0 0 1 273.6 266.0M272.5 266.5L272.2 266.0M272.0 266.1A9.6 9.6 0 0 1 272.3 265.9M272.0 266.1L271.7 265.6M271.6 265.7A10.2 10.2 0 0 1 271.8 265.5M271.6 265.7L271.0 264.8M271.8 265.5L271.3 264.7M272.3 265.9L271.8 265.1M273.6 266.0L273.3 265.4M272.8 265.6A9.6 9.6 0 0 1 273.8 265.2M272.8 265.6L272.5 265.1M272.4 265.2A10.2 10.2 0 0 1 272.7 265.0M272.4 265.2L272.1 264.7M272.0 264.7A10.8 10.8 0 0 1 272.2 264.6M272.0 264.7L271.5 263.9M272.2 264.6L271.8 263.7M272.7 265.0L272.3 264.1M273.8 265.2L273.6 264.6M273.3 264.8A10.2 10.2 0 0 1 274.0 264.5M273.3 264.8L273.0 264.2M272.9 264.3A10.8 10.8 0 0 1 273.2 264.1M272.9 264.3L272.6 263.8M272.5 263.8A11.4 11.4 0 0 1 272.7 263.7M272.5 263.8L272.1 262.9M272.7 263.7L272.4 262.8M273.2 264.1L272.9 263.2M274.0 264.5L273.8 263.9M273.5 264.0A10.8 10.8 0 0 1 274.1 263.8M273.5 264.0L273.2 263.1M274.1 263.8L273.9 263.3M273.6 263.4A11.4 11.4 0 0 1 274.2 263.2M273.6 263.4L273.3 262.4M274.2 263.2L274.1 262.6M273.8 262.7A12.0 12.0 0 0 1 274.3 262.5M273.8 262.7L273.7 262.1M273.5 262.1A12.6 12.6 0 0 1 273.8 262.0M273.5 262.1L273.2 261.2M273.8 262.0L273.6 261.1M274.3 262.5L274.1 261.6" fill="none" stroke="#000" stroke-width="1.2" stroke-linejoin="round"/>
<path d="M276.8 266.7A7.3 7.3 0 0 1 281.2 280.5M281.2 280.5L295.9 307.2M276.1 270.0A4.4 4.4 0 0 1 282.6 273.0M314.1 282.9A37.9 37.9 0 0 1 265.6 310.3" fill="none" stroke="#000" stroke-width="1.25" stroke-linecap="round"/>
<path d="M266.9 264.8L277.2 274.3" stroke="#000" stroke-width="1.1" fill="none"/>
<path d="M271.6 267.3L274.6 268.2L276.2 267.2L278.4 270.4L278 274.6L276.2 274.4L274.4 272.2L273.6 269.6Z" fill="#000"/>
<path d="M314.1 282.9L324.7 285.4" stroke="#93ca80" stroke-width="1.2" fill="none"/>
<path d="M265.6 310.3L259.8 328.5" stroke="#f8b068" stroke-width="1.2" fill="none"/>
<path d="M277.9 267.2L278.6 260.3" stroke="#74ace4" stroke-width="1.1" fill="none"/>
<g font-family="'Liberation Serif', serif" font-weight="bold" font-size="5.6" fill="#222">
<text x="229" y="314.2">IV-B</text><path d="M234.6 315.4L240 321.3" stroke="#222" stroke-width="0.7"/>
<text x="269.4" y="338.2">IV-a</text><path d="M282.6 335.8H291.4" stroke="#222" stroke-width="0.7"/>
</g>
<g>
<rect x="208.8" y="-2.81" width="48.2" height="5.62" fill="#f6bfbd" transform="translate(277.2 274.2) rotate(-140.000)"/>
<rect x="208.8" y="-2.81" width="48.2" height="5.62" fill="#f6bfbd" transform="translate(277.2 274.2) rotate(-138.498)"/>
<rect x="208.8" y="-2.81" width="37.7" height="5.62" fill="#f6bfbd" transform="translate(277.2 274.2) rotate(-136.996)"/>
<rect x="208.8" y="-2.81" width="23.0" height="5.62" fill="#f6bfbd" transform="translate(277.2 274.2) rotate(-135.494)"/>
<rect x="208.8" y="-2.81" width="23.0" height="5.62" fill="#f6bfbd" transform="translate(277.2 274.2) rotate(-133.991)"/>
<rect x="208.8" y="-2.81" width="57.9" height="5.62" fill="#f6bfbd" transform="translate(277.2 274.2) rotate(-132.489)"/>
<rect x="208.8" y="-2.81" width="48.2" height="5.62" fill="#f6bfbd" transform="translate(277.2 274.2) rotate(-130.987)"/>
<rect x="208.8" y="-2.81" width="37.7" height="5.62" fill="#f6bfbd" transform="translate(277.2 274.2) rotate(-129.485)"/>
<rect x="208.8" y="-2.81" width="37.7" height="5.62" fill="#f6bfbd" transform="translate(277.2 274.2) rotate(-127.983)"/>
<rect x="208.8" y="-2.81" width="23.0" height="5.62" fill="#f6bfbd" transform="translate(277.2 274.2) rotate(-126.481)"/>
<rect x="208.8" y="-2.81" width="23.0" height="5.62" fill="#f6bfbd" transform="translate(277.2 274.2) rotate(-124.979)"/>
<rect x="208.8" y="-2.81" width="57.9" height="5.62" fill="#f6bfbd" transform="translate(277.2 274.2) rotate(-123.476)"/>
<rect x="208.8" y="-2.81" width="57.9" height="5.62" fill="#f6bfbd" transform="translate(277.2 274.2) rotate(-121.974)"/>
<rect x="208.8" y="-2.81" width="23.0" height="5.62" fill="#f6bfbd" transform="translate(277.2 274.2) rotate(-120.472)"/>
<rect x="208.8" y="-2.81" width="23.0" height="5.62" fill="#f6bfbd" transform="translate(277.2 274.2) rotate(-118.970)"/>
<rect x="208.8" y="-2.81" width="23.0" height="5.62" fill="#f6bfbd" transform="translate(277.2 274.2) rotate(-117.468)"/>
<rect x="208.8" y="-2.81" width="23.0" height="5.62" fill="#f6bfbd" transform="translate(277.2 274.2) rotate(-115.966)"/>
<rect x="208.8" y="-2.81" width="57.9" height="5.62" fill="#f6bfbd" transform="translate(277.2 274.2) rotate(-114.464)"/>
<rect x="208.8" y="-2.81" width="23.0" height="5.62" fill="#f6bfbd" transform="translate(277.2 274.2) rotate(-112.961)"/>
<rect x="208.8" y="-2.81" width="25.8" height="5.62" fill="#f6bfbd" transform="translate(277.2 274.2) rotate(-111.459)"/>
<rect x="208.8" y="-2.81" width="31.5" height="5.62" fill="#f6bfbd" transform="translate(277.2 274.2) rotate(-109.957)"/>
<rect x="208.8" y="-2.81" width="31.5" height="5.62" fill="#f6bfbd" transform="translate(277.2 274.2) rotate(-108.455)"/>
<rect x="208.8" y="-2.81" width="31.5" height="5.62" fill="#f6bfbd" transform="translate(277.2 274.2) rotate(-106.953)"/>
<rect x="208.8" y="-2.81" width="31.5" height="5.62" fill="#f6bfbd" transform="translate(277.2 274.2) rotate(-105.451)"/>
<rect x="208.8" y="-2.81" width="31.5" height="5.62" fill="#f6bfbd" transform="translate(277.2 274.2) rotate(-103.948)"/>
<rect x="208.8" y="-2.81" width="31.5" height="5.62" fill="#c5dcf4" transform="translate(277.2 274.2) rotate(-102.446)"/>
<rect x="208.8" y="-2.81" width="31.5" height="5.62" fill="#c5dcf4" transform="translate(277.2 274.2) rotate(-100.944)"/>
<rect x="208.8" y="-2.81" width="37.7" height="5.62" fill="#c5dcf4" transform="translate(277.2 274.2) rotate(-99.442)"/>
<rect x="208.8" y="-2.81" width="25.8" height="5.62" fill="#c5dcf4" transform="translate(277.2 274.2) rotate(-97.940)"/>
<rect x="208.8" y="-2.81" width="25.8" height="5.62" fill="#c5dcf4" transform="translate(277.2 274.2) rotate(-96.438)"/>
<rect x="208.8" y="-2.81" width="57.9" height="5.62" fill="#c5dcf4" transform="translate(277.2 274.2) rotate(-94.936)"/>
<rect x="208.8" y="-2.81" width="25.8" height="5.62" fill="#c5dcf4" transform="translate(277.2 274.2) rotate(-93.433)"/>
<rect x="208.8" y="-2.81" width="25.8" height="5.62" fill="#c5dcf4" transform="translate(277.2 274.2) rotate(-91.931)"/>
<rect x="208.8" y="-2.81" width="25.8" height="5.62" fill="#c5dcf4" transform="translate(277.2 274.2) rotate(-90.429)"/>
<rect x="208.8" y="-2.81" width="25.8" height="5.62" fill="#c5dcf4" transform="translate(277.2 274.2) rotate(-88.927)"/>
<rect x="208.8" y="-2.81" width="48.2" height="5.62" fill="#c5dcf4" transform="translate(277.2 274.2) rotate(-87.425)"/>
<rect x="208.8" y="-2.81" width="37.7" height="5.62" fill="#c5dcf4" transform="translate(277.2 274.2) rotate(-85.923)"/>
<rect x="208.8" y="-2.81" width="25.8" height="5.62" fill="#c5dcf4" transform="translate(277.2 274.2) rotate(-84.421)"/>
<rect x="208.8" y="-2.81" width="57.9" height="5.62" fill="#c5dcf4" transform="translate(277.2 274.2) rotate(-82.918)"/>
<rect x="208.8" y="-2.81" width="25.8" height="5.62" fill="#c5dcf4" transform="translate(277.2 274.2) rotate(-81.416)"/>
<rect x="208.8" y="-2.81" width="31.5" height="5.62" fill="#c5dcf4" transform="translate(277.2 274.2) rotate(-79.914)"/>
<rect x="208.8" y="-2.81" width="31.5" height="5.62" fill="#c5dcf4" transform="translate(277.2 274.2) rotate(-78.412)"/>
<rect x="208.8" y="-2.81" width="31.5" height="5.62" fill="#c5dcf4" transform="translate(277.2 274.2) rotate(-76.910)"/>
<rect x="208.8" y="-2.81" width="31.5" height="5.62" fill="#c5dcf4" transform="translate(277.2 274.2) rotate(-75.408)"/>
<rect x="208.8" y="-2.81" width="31.5" height="5.62" fill="#c5dcf4" transform="translate(277.2 274.2) rotate(-73.906)"/>
<rect x="208.8" y="-2.81" width="31.5" height="5.62" fill="#c5dcf4" transform="translate(277.2 274.2) rotate(-72.403)"/>
<rect x="208.8" y="-2.81" width="48.2" height="5.62" fill="#c5dcf4" transform="translate(277.2 274.2) rotate(-70.901)"/>
<rect x="208.8" y="-2.81" width="48.2" height="5.62" fill="#c5dcf4" transform="translate(277.2 274.2) rotate(-69.399)"/>
<rect x="208.8" y="-2.81" width="37.7" height="5.62" fill="#c5dcf4" transform="translate(277.2 274.2) rotate(-67.897)"/>
<rect x="208.8" y="-2.81" width="25.8" height="5.62" fill="#c5dcf4" transform="translate(277.2 274.2) rotate(-66.395)"/>
<rect x="208.8" y="-2.81" width="25.8" height="5.62" fill="#c5dcf4" transform="translate(277.2 274.2) rotate(-64.893)"/>
<rect x="208.8" y="-2.81" width="48.2" height="5.62" fill="#c5dcf4" transform="translate(277.2 274.2) rotate(-63.391)"/>
<rect x="208.8" y="-2.81" width="37.3" height="5.62" fill="#c5dcf4" transform="translate(277.2 274.2) rotate(-61.888)"/>
<rect x="208.8" y="-2.81" width="25.8" height="5.62" fill="#c5dcf4" transform="translate(277.2 274.2) rotate(-60.386)"/>
<rect x="208.8" y="-2.81" width="25.8" height="5.62" fill="#c5dcf4" transform="translate(277.2 274.2) rotate(-58.884)"/>
<rect x="208.8" y="-2.81" width="57.9" height="5.62" fill="#c5dcf4" transform="translate(277.2 274.2) rotate(-57.382)"/>
<rect x="208.8" y="-2.81" width="57.9" height="5.62" fill="#c5dcf4" transform="translate(277.2 274.2) rotate(-55.880)"/>
<rect x="208.8" y="-2.81" width="37.7" height="5.62" fill="#c5dcf4" transform="translate(277.2 274.2) rotate(-54.378)"/>
<rect x="208.8" y="-2.81" width="48.2" height="5.62" fill="#c5dcf4" transform="translate(277.2 274.2) rotate(-52.876)"/>
<rect x="208.8" y="-2.81" width="48.2" height="5.62" fill="#c5dcf4" transform="translate(277.2 274.2) rotate(-51.373)"/>
<rect x="208.8" y="-2.81" width="25.8" height="5.62" fill="#c5dcf4" transform="translate(277.2 274.2) rotate(-49.871)"/>
<rect x="208.8" y="-2.81" width="57.9" height="5.62" fill="#c5dcf4" transform="translate(277.2 274.2) rotate(-48.369)"/>
<rect x="208.8" y="-2.81" width="25.8" height="5.62" fill="#c5dcf4" transform="translate(277.2 274.2) rotate(-46.867)"/>
<rect x="208.8" y="-2.81" width="37.7" height="5.62" fill="#c5dcf4" transform="translate(277.2 274.2) rotate(-45.365)"/>
<rect x="208.8" y="-2.81" width="37.7" height="5.62" fill="#c5dcf4" transform="translate(277.2 274.2) rotate(-43.863)"/>
<rect x="208.8" y="-2.81" width="48.2" height="5.62" fill="#c5dcf4" transform="translate(277.2 274.2) rotate(-42.361)"/>
<rect x="208.8" y="-2.81" width="48.2" height="5.62" fill="#c5dcf4" transform="translate(277.2 274.2) rotate(-40.858)"/>
<rect x="208.8" y="-2.81" width="25.8" height="5.62" fill="#c5dcf4" transform="translate(277.2 274.2) rotate(-39.356)"/>
<rect x="208.8" y="-2.81" width="57.9" height="5.62" fill="#c5dcf4" transform="translate(277.2 274.2) rotate(-37.854)"/>
<rect x="208.8" y="-2.81" width="57.9" height="5.62" fill="#c5dcf4" transform="translate(277.2 274.2) rotate(-36.352)"/>
<rect x="208.8" y="-2.81" width="48.2" height="5.62" fill="#c5dcf4" transform="translate(277.2 274.2) rotate(-34.850)"/>
<rect x="208.8" y="-2.81" width="37.7" height="5.62" fill="#c5dcf4" transform="translate(277.2 274.2) rotate(-33.348)"/>
<rect x="208.8" y="-2.81" width="25.8" height="5.62" fill="#c5dcf4" transform="translate(277.2 274.2) rotate(-31.845)"/>
<rect x="208.8" y="-2.81" width="57.9" height="5.62" fill="#c5dcf4" transform="translate(277.2 274.2) rotate(-30.343)"/>
<rect x="208.8" y="-2.81" width="25.8" height="5.62" fill="#c5dcf4" transform="translate(277.2 274.2) rotate(-28.841)"/>
<rect x="208.8" y="-2.81" width="25.8" height="5.62" fill="#c5dcf4" transform="translate(277.2 274.2) rotate(-27.339)"/>
<rect x="208.8" y="-2.81" width="57.9" height="5.62" fill="#c5dcf4" transform="translate(277.2 274.2) rotate(-25.837)"/>
<rect x="208.8" y="-2.81" width="25.8" height="5.62" fill="#c5dcf4" transform="translate(277.2 274.2) rotate(-24.335)"/>
<rect x="208.8" y="-2.81" width="25.8" height="5.62" fill="#c5dcf4" transform="translate(277.2 274.2) rotate(-22.833)"/>
<rect x="208.8" y="-2.81" width="25.8" height="5.62" fill="#c5dcf4" transform="translate(277.2 274.2) rotate(-21.330)"/>
<rect x="208.8" y="-2.81" width="25.8" height="5.62" fill="#c5dcf4" transform="translate(277.2 274.2) rotate(-19.828)"/>
<rect x="208.8" y="-2.81" width="25.8" height="5.62" fill="#c5dcf4" transform="translate(277.2 274.2) rotate(-18.326)"/>
<rect x="208.8" y="-2.81" width="25.8" height="5.62" fill="#c5dcf4" transform="translate(277.2 274.2) rotate(-16.824)"/>
<rect x="208.8" y="-2.81" width="25.8" height="5.62" fill="#c5dcf4" transform="translate(277.2 274.2) rotate(-15.322)"/>
<rect x="208.8" y="-2.81" width="57.9" height="5.62" fill="#c5dcf4" transform="translate(277.2 274.2) rotate(-13.820)"/>
<rect x="208.8" y="-2.81" width="31.5" height="5.62" fill="#c5dcf4" transform="translate(277.2 274.2) rotate(-12.318)"/>
<rect x="208.8" y="-2.81" width="47.9" height="5.62" fill="#d5e8cd" transform="translate(277.2 274.2) rotate(-10.815)"/>
<rect x="208.8" y="-2.81" width="37.7" height="5.62" fill="#d5e8cd" transform="translate(277.2 274.2) rotate(-9.313)"/>
<rect x="208.8" y="-2.81" width="25.8" height="5.62" fill="#d5e8cd" transform="translate(277.2 274.2) rotate(-7.811)"/>
<rect x="208.8" y="-2.81" width="57.9" height="5.62" fill="#d5e8cd" transform="translate(277.2 274.2) rotate(-6.309)"/>
<rect x="208.8" y="-2.81" width="57.9" height="5.62" fill="#d5e8cd" transform="translate(277.2 274.2) rotate(-4.807)"/>
<rect x="208.8" y="-2.81" width="48.2" height="5.62" fill="#d5e8cd" transform="translate(277.2 274.2) rotate(-3.305)"/>
<rect x="208.8" y="-2.81" width="37.7" height="5.62" fill="#d5e8cd" transform="translate(277.2 274.2) rotate(-1.803)"/>
<rect x="208.8" y="-2.81" width="48.2" height="5.62" fill="#d5e8cd" transform="translate(277.2 274.2) rotate(-0.300)"/>
<rect x="208.8" y="-2.81" width="48.2" height="5.62" fill="#d5e8cd" transform="translate(277.2 274.2) rotate(1.202)"/>
<rect x="208.8" y="-2.81" width="37.7" height="5.62" fill="#d5e8cd" transform="translate(277.2 274.2) rotate(2.704)"/>
<rect x="208.8" y="-2.81" width="25.8" height="5.62" fill="#d5e8cd" transform="translate(277.2 274.2) rotate(4.206)"/>
<rect x="208.8" y="-2.81" width="25.8" height="5.62" fill="#d5e8cd" transform="translate(277.2 274.2) rotate(5.708)"/>
<rect x="208.8" y="-2.81" width="31.5" height="5.62" fill="#d5e8cd" transform="translate(277.2 274.2) rotate(7.210)"/>
<rect x="208.8" y="-2.81" width="25.8" height="5.62" fill="#d5e8cd" transform="translate(277.2 274.2) rotate(8.712)"/>
<rect x="208.8" y="-2.81" width="25.5" height="5.62" fill="#d5e8cd" transform="translate(277.2 274.2) rotate(10.215)"/>
<rect x="208.8" y="-2.81" width="37.7" height="5.62" fill="#d5e8cd" transform="translate(277.2 274.2) rotate(11.717)"/>
<rect x="208.8" y="-2.81" width="48.2" height="5.62" fill="#d5e8cd" transform="translate(277.2 274.2) rotate(13.219)"/>
<rect x="208.8" y="-2.81" width="31.5" height="5.62" fill="#d5e8cd" transform="translate(277.2 274.2) rotate(14.721)"/>
<rect x="208.8" y="-2.81" width="37.7" height="5.62" fill="#d5e8cd" transform="translate(277.2 274.2) rotate(16.223)"/>
<rect x="208.8" y="-2.81" width="57.9" height="5.62" fill="#d5e8cd" transform="translate(277.2 274.2) rotate(17.725)"/>
<rect x="208.8" y="-2.81" width="25.8" height="5.62" fill="#d5e8cd" transform="translate(277.2 274.2) rotate(19.227)"/>
<rect x="208.8" y="-2.81" width="25.8" height="5.62" fill="#d5e8cd" transform="translate(277.2 274.2) rotate(20.730)"/>
<rect x="208.8" y="-2.81" width="31.5" height="5.62" fill="#d5e8cd" transform="translate(277.2 274.2) rotate(22.232)"/>
<rect x="208.8" y="-2.81" width="31.5" height="5.62" fill="#d5e8cd" transform="translate(277.2 274.2) rotate(23.734)"/>
<rect x="208.8" y="-2.81" width="57.9" height="5.62" fill="#d5e8cd" transform="translate(277.2 274.2) rotate(25.236)"/>
<rect x="208.8" y="-2.81" width="57.9" height="5.62" fill="#d5e8cd" transform="translate(277.2 274.2) rotate(26.738)"/>
<rect x="208.8" y="-2.81" width="25.8" height="5.62" fill="#d5e8cd" transform="translate(277.2 274.2) rotate(28.240)"/>
<rect x="208.8" y="-2.81" width="25.8" height="5.62" fill="#d5e8cd" transform="translate(277.2 274.2) rotate(29.742)"/>
<rect x="208.8" y="-2.81" width="48.2" height="5.62" fill="#d5e8cd" transform="translate(277.2 274.2) rotate(31.245)"/>
<rect x="208.8" y="-2.81" width="37.7" height="5.62" fill="#d5e8cd" transform="translate(277.2 274.2) rotate(32.747)"/>
<rect x="208.8" y="-2.81" width="48.2" height="5.62" fill="#d5e8cd" transform="translate(277.2 274.2) rotate(34.249)"/>
<rect x="208.8" y="-2.81" width="48.2" height="5.62" fill="#d5e8cd" transform="translate(277.2 274.2) rotate(35.751)"/>
<rect x="208.8" y="-2.81" width="57.9" height="5.62" fill="#d5e8cd" transform="translate(277.2 274.2) rotate(37.253)"/>
<rect x="208.8" y="-2.81" width="25.8" height="5.62" fill="#d5e8cd" transform="translate(277.2 274.2) rotate(38.755)"/>
<rect x="208.8" y="-2.81" width="25.8" height="5.62" fill="#d5e8cd" transform="translate(277.2 274.2) rotate(40.258)"/>
<rect x="208.8" y="-2.81" width="37.7" height="5.62" fill="#d5e8cd" transform="translate(277.2 274.2) rotate(41.760)"/>
<rect x="208.8" y="-2.81" width="48.2" height="5.62" fill="#d5e8cd" transform="translate(277.2 274.2) rotate(43.262)"/>
<rect x="208.8" y="-2.81" width="25.8" height="5.62" fill="#d5e8cd" transform="translate(277.2 274.2) rotate(44.764)"/>
<rect x="208.8" y="-2.81" width="25.8" height="5.62" fill="#d5e8cd" transform="translate(277.2 274.2) rotate(46.266)"/>
<rect x="208.8" y="-2.81" width="31.5" height="5.62" fill="#d5e8cd" transform="translate(277.2 274.2) rotate(47.768)"/>
<rect x="208.8" y="-2.81" width="31.5" height="5.62" fill="#d5e8cd" transform="translate(277.2 274.2) rotate(49.270)"/>
<rect x="208.8" y="-2.81" width="31.5" height="5.62" fill="#d5e8cd" transform="translate(277.2 274.2) rotate(50.773)"/>
<rect x="208.8" y="-2.81" width="48.2" height="5.62" fill="#d5e8cd" transform="translate(277.2 274.2) rotate(52.275)"/>
<rect x="208.8" y="-2.81" width="37.7" height="5.62" fill="#d5e8cd" transform="translate(277.2 274.2) rotate(53.777)"/>
<rect x="208.8" y="-2.81" width="25.8" height="5.62" fill="#d5e8cd" transform="translate(277.2 274.2) rotate(55.279)"/>
<rect x="208.8" y="-2.81" width="25.8" height="5.62" fill="#d5e8cd" transform="translate(277.2 274.2) rotate(56.781)"/>
<rect x="208.8" y="-2.81" width="57.9" height="5.62" fill="#d5e8cd" transform="translate(277.2 274.2) rotate(58.283)"/>
<rect x="208.8" y="-2.81" width="31.5" height="5.62" fill="#d5e8cd" transform="translate(277.2 274.2) rotate(59.785)"/>
<rect x="208.8" y="-2.81" width="31.5" height="5.62" fill="#d5e8cd" transform="translate(277.2 274.2) rotate(61.288)"/>
<rect x="208.8" y="-2.81" width="48.2" height="5.62" fill="#d5e8cd" transform="translate(277.2 274.2) rotate(62.790)"/>
<rect x="208.8" y="-2.81" width="37.7" height="5.62" fill="#d5e8cd" transform="translate(277.2 274.2) rotate(64.292)"/>
<rect x="208.8" y="-2.81" width="25.8" height="5.62" fill="#d5e8cd" transform="translate(277.2 274.2) rotate(65.794)"/>
<rect x="208.8" y="-2.81" width="25.8" height="5.62" fill="#d5e8cd" transform="translate(277.2 274.2) rotate(67.296)"/>
<rect x="208.8" y="-2.81" width="48.2" height="5.62" fill="#d5e8cd" transform="translate(277.2 274.2) rotate(68.798)"/>
<rect x="208.8" y="-2.81" width="25.8" height="5.62" fill="#d5e8cd" transform="translate(277.2 274.2) rotate(70.300)"/>
<rect x="208.8" y="-2.81" width="25.8" height="5.62" fill="#d5e8cd" transform="translate(277.2 274.2) rotate(71.803)"/>
<rect x="208.8" y="-2.81" width="37.7" height="5.62" fill="#d5e8cd" transform="translate(277.2 274.2) rotate(73.305)"/>
<rect x="208.8" y="-2.81" width="48.2" height="5.62" fill="#d5e8cd" transform="translate(277.2 274.2) rotate(74.807)"/>
<rect x="208.8" y="-2.81" width="48.2" height="5.62" fill="#d5e8cd" transform="translate(277.2 274.2) rotate(76.309)"/>
<rect x="208.8" y="-2.81" width="57.9" height="5.62" fill="#fce2c4" transform="translate(277.2 274.2) rotate(77.811)"/>
<rect x="208.8" y="-2.81" width="57.9" height="5.62" fill="#fce2c4" transform="translate(277.2 274.2) rotate(79.313)"/>
<rect x="208.8" y="-2.81" width="31.5" height="5.62" fill="#fce2c4" transform="translate(277.2 274.2) rotate(80.815)"/>
<rect x="208.8" y="-2.81" width="48.2" height="5.62" fill="#fce2c4" transform="translate(277.2 274.2) rotate(82.318)"/>
<rect x="208.8" y="-2.81" width="37.7" height="5.62" fill="#fce2c4" transform="translate(277.2 274.2) rotate(83.820)"/>
<rect x="208.8" y="-2.81" width="25.8" height="5.62" fill="#fce2c4" transform="translate(277.2 274.2) rotate(85.322)"/>
<rect x="208.8" y="-2.81" width="25.8" height="5.62" fill="#fce2c4" transform="translate(277.2 274.2) rotate(86.824)"/>
<rect x="208.8" y="-2.81" width="57.9" height="5.62" fill="#fce2c4" transform="translate(277.2 274.2) rotate(88.326)"/>
<rect x="208.8" y="-2.81" width="31.5" height="5.62" fill="#fce2c4" transform="translate(277.2 274.2) rotate(89.828)"/>
<rect x="208.8" y="-2.81" width="31.5" height="5.62" fill="#fce2c4" transform="translate(277.2 274.2) rotate(91.330)"/>
<rect x="208.8" y="-2.81" width="25.8" height="5.62" fill="#fce2c4" transform="translate(277.2 274.2) rotate(92.833)"/>
<rect x="208.8" y="-2.81" width="25.8" height="5.62" fill="#fce2c4" transform="translate(277.2 274.2) rotate(94.335)"/>
<rect x="208.8" y="-2.81" width="48.2" height="5.62" fill="#fce2c4" transform="translate(277.2 274.2) rotate(95.837)"/>
<rect x="208.8" y="-2.81" width="37.7" height="5.62" fill="#fce2c4" transform="translate(277.2 274.2) rotate(97.339)"/>
<rect x="208.8" y="-2.81" width="48.2" height="5.62" fill="#fce2c4" transform="translate(277.2 274.2) rotate(98.841)"/>
<rect x="208.8" y="-2.81" width="48.2" height="5.62" fill="#fce2c4" transform="translate(277.2 274.2) rotate(100.343)"/>
<rect x="208.8" y="-2.81" width="48.2" height="5.62" fill="#fce2c4" transform="translate(277.2 274.2) rotate(101.845)"/>
<rect x="208.8" y="-2.81" width="48.2" height="5.62" fill="#fce2c4" transform="translate(277.2 274.2) rotate(103.348)"/>
<rect x="208.8" y="-2.81" width="25.8" height="5.62" fill="#fce2c4" transform="translate(277.2 274.2) rotate(104.850)"/>
<rect x="208.8" y="-2.81" width="25.8" height="5.62" fill="#fce2c4" transform="translate(277.2 274.2) rotate(106.352)"/>
<rect x="208.8" y="-2.81" width="57.9" height="5.62" fill="#fce2c4" transform="translate(277.2 274.2) rotate(107.854)"/>
<rect x="208.8" y="-2.81" width="57.9" height="5.62" fill="#fce2c4" transform="translate(277.2 274.2) rotate(109.356)"/>
<rect x="208.8" y="-2.81" width="48.2" height="5.62" fill="#fce2c4" transform="translate(277.2 274.2) rotate(110.858)"/>
<rect x="208.8" y="-2.81" width="48.2" height="5.62" fill="#fce2c4" transform="translate(277.2 274.2) rotate(112.361)"/>
<rect x="208.8" y="-2.81" width="48.2" height="5.62" fill="#fce2c4" transform="translate(277.2 274.2) rotate(113.863)"/>
<rect x="208.8" y="-2.81" width="37.7" height="5.62" fill="#fce2c4" transform="translate(277.2 274.2) rotate(115.365)"/>
<rect x="208.8" y="-2.81" width="48.2" height="5.62" fill="#fce2c4" transform="translate(277.2 274.2) rotate(116.867)"/>
<rect x="208.8" y="-2.81" width="48.2" height="5.62" fill="#fce2c4" transform="translate(277.2 274.2) rotate(118.369)"/>
<rect x="208.8" y="-2.81" width="57.9" height="5.62" fill="#fce2c4" transform="translate(277.2 274.2) rotate(119.871)"/>
<rect x="208.8" y="-2.81" width="37.7" height="5.62" fill="#fce2c4" transform="translate(277.2 274.2) rotate(121.373)"/>
<rect x="208.8" y="-2.81" width="57.9" height="5.62" fill="#fce2c4" transform="translate(277.2 274.2) rotate(122.876)"/>
<rect x="208.8" y="-2.81" width="25.8" height="5.62" fill="#fce2c4" transform="translate(277.2 274.2) rotate(124.378)"/>
<rect x="208.8" y="-2.81" width="25.8" height="5.62" fill="#fce2c4" transform="translate(277.2 274.2) rotate(125.880)"/>
<rect x="208.8" y="-2.81" width="31.5" height="5.62" fill="#fce2c4" transform="translate(277.2 274.2) rotate(127.382)"/>
<rect x="208.8" y="-2.81" width="31.5" height="5.62" fill="#fce2c4" transform="translate(277.2 274.2) rotate(128.884)"/>
<rect x="208.8" y="-2.81" width="31.5" height="5.62" fill="#fce2c4" transform="translate(277.2 274.2) rotate(130.386)"/>
<rect x="208.8" y="-2.81" width="37.7" height="5.62" fill="#fce2c4" transform="translate(277.2 274.2) rotate(131.888)"/>
<rect x="208.8" y="-2.81" width="48.2" height="5.62" fill="#fce2c4" transform="translate(277.2 274.2) rotate(133.391)"/>
<rect x="208.8" y="-2.81" width="57.9" height="5.62" fill="#fce2c4" transform="translate(277.2 274.2) rotate(134.893)"/>
<rect x="208.8" y="-2.81" width="25.8" height="5.62" fill="#fce2c4" transform="translate(277.2 274.2) rotate(136.395)"/>
<rect x="208.8" y="-2.81" width="25.8" height="5.62" fill="#fce2c4" transform="translate(277.2 274.2) rotate(137.897)"/>
<rect x="208.8" y="-2.81" width="37.7" height="5.62" fill="#fce2c4" transform="translate(277.2 274.2) rotate(139.399)"/>
<rect x="208.8" y="-2.81" width="48.2" height="5.62" fill="#fce2c4" transform="translate(277.2 274.2) rotate(140.901)"/>
<rect x="208.8" y="-2.81" width="48.2" height="5.62" fill="#fce2c4" transform="translate(277.2 274.2) rotate(142.403)"/>
<rect x="208.8" y="-2.81" width="25.8" height="5.62" fill="#fce2c4" transform="translate(277.2 274.2) rotate(143.906)"/>
<rect x="208.8" y="-2.81" width="25.8" height="5.62" fill="#fce2c4" transform="translate(277.2 274.2) rotate(145.408)"/>
<rect x="208.8" y="-2.81" width="37.7" height="5.62" fill="#fce2c4" transform="translate(277.2 274.2) rotate(146.910)"/>
<rect x="208.8" y="-2.81" width="37.7" height="5.62" fill="#fce2c4" transform="translate(277.2 274.2) rotate(148.412)"/>
<rect x="208.8" y="-2.81" width="37.7" height="5.62" fill="#fce2c4" transform="translate(277.2 274.2) rotate(149.914)"/>
<rect x="208.8" y="-2.81" width="25.8" height="5.62" fill="#fce2c4" transform="translate(277.2 274.2) rotate(151.416)"/>
<rect x="208.8" y="-2.81" width="25.8" height="5.62" fill="#fce2c4" transform="translate(277.2 274.2) rotate(152.918)"/>
<rect x="208.8" y="-2.81" width="57.9" height="5.62" fill="#fce2c4" transform="translate(277.2 274.2) rotate(154.421)"/>
<rect x="208.8" y="-2.81" width="57.9" height="5.62" fill="#fce2c4" transform="translate(277.2 274.2) rotate(155.923)"/>
<rect x="208.8" y="-2.81" width="25.8" height="5.62" fill="#fce2c4" transform="translate(277.2 274.2) rotate(157.425)"/>
<rect x="208.8" y="-2.81" width="57.6" height="5.62" fill="#fce2c4" transform="translate(277.2 274.2) rotate(158.927)"/>
<rect x="208.8" y="-2.81" width="57.9" height="5.62" fill="#fce2c4" transform="translate(277.2 274.2) rotate(160.429)"/>
<rect x="208.8" y="-2.81" width="48.2" height="5.62" fill="#fce2c4" transform="translate(277.2 274.2) rotate(161.931)"/>
<rect x="208.8" y="-2.81" width="37.3" height="5.62" fill="#fce2c4" transform="translate(277.2 274.2) rotate(163.433)"/>
<rect x="208.8" y="-2.81" width="25.8" height="5.62" fill="#fce2c4" transform="translate(277.2 274.2) rotate(164.936)"/>
<rect x="208.8" y="-2.81" width="25.8" height="5.62" fill="#fce2c4" transform="translate(277.2 274.2) rotate(166.438)"/>
<rect x="208.8" y="-2.81" width="57.9" height="5.62" fill="#fce2c4" transform="translate(277.2 274.2) rotate(167.940)"/>
<rect x="208.8" y="-2.81" width="57.9" height="5.62" fill="#fce2c4" transform="translate(277.2 274.2) rotate(169.442)"/>
<rect x="208.8" y="-2.81" width="31.5" height="5.62" fill="#fce2c4" transform="translate(277.2 274.2) rotate(170.944)"/>
<rect x="208.8" y="-2.81" width="31.5" height="5.62" fill="#fce2c4" transform="translate(277.2 274.2) rotate(172.446)"/>
<rect x="208.8" y="-2.81" width="37.7" height="5.62" fill="#fce2c4" transform="translate(277.2 274.2) rotate(173.948)"/>
<rect x="208.8" y="-2.81" width="25.8" height="5.62" fill="#fce2c4" transform="translate(277.2 274.2) rotate(175.451)"/>
<rect x="208.8" y="-2.81" width="25.8" height="5.62" fill="#fce2c4" transform="translate(277.2 274.2) rotate(176.953)"/>
<rect x="208.8" y="-2.81" width="48.2" height="5.62" fill="#fce2c4" transform="translate(277.2 274.2) rotate(178.455)"/>
<rect x="208.8" y="-2.81" width="37.7" height="5.62" fill="#fce2c4" transform="translate(277.2 274.2) rotate(179.957)"/>
<rect x="208.8" y="-2.81" width="57.9" height="5.62" fill="#fce2c4" transform="translate(277.2 274.2) rotate(181.459)"/>
<rect x="208.8" y="-2.81" width="25.8" height="5.62" fill="#fce2c4" transform="translate(277.2 274.2) rotate(182.961)"/>
<rect x="208.8" y="-2.81" width="25.8" height="5.62" fill="#fce2c4" transform="translate(277.2 274.2) rotate(184.464)"/>
<rect x="208.8" y="-2.81" width="57.9" height="5.62" fill="#fce2c4" transform="translate(277.2 274.2) rotate(185.966)"/>
<rect x="208.8" y="-2.81" width="25.8" height="5.62" fill="#fce2c4" transform="translate(277.2 274.2) rotate(187.468)"/>
<rect x="208.8" y="-2.81" width="25.8" height="5.62" fill="#fce2c4" transform="translate(277.2 274.2) rotate(188.970)"/>
<rect x="208.8" y="-2.81" width="31.5" height="5.62" fill="#fce2c4" transform="translate(277.2 274.2) rotate(190.472)"/>
<rect x="208.8" y="-2.81" width="31.5" height="5.62" fill="#fce2c4" transform="translate(277.2 274.2) rotate(191.974)"/>
<rect x="208.8" y="-2.81" width="31.5" height="5.62" fill="#fce2c4" transform="translate(277.2 274.2) rotate(193.476)"/>
<rect x="208.8" y="-2.81" width="31.5" height="5.62" fill="#fce2c4" transform="translate(277.2 274.2) rotate(194.979)"/>
<rect x="208.8" y="-2.81" width="37.7" height="5.62" fill="#fce2c4" transform="translate(277.2 274.2) rotate(196.481)"/>
<rect x="208.8" y="-2.81" width="25.8" height="5.62" fill="#fce2c4" transform="translate(277.2 274.2) rotate(197.983)"/>
<rect x="208.8" y="-2.81" width="25.8" height="5.62" fill="#fce2c4" transform="translate(277.2 274.2) rotate(199.485)"/>
<rect x="208.8" y="-2.81" width="57.9" height="5.62" fill="#fce2c4" transform="translate(277.2 274.2) rotate(200.987)"/>
<rect x="208.8" y="-2.81" width="57.9" height="5.62" fill="#fce2c4" transform="translate(277.2 274.2) rotate(202.489)"/>
<rect x="208.8" y="-2.81" width="48.2" height="5.62" fill="#fce2c4" transform="translate(277.2 274.2) rotate(203.991)"/>
<rect x="208.8" y="-2.81" width="48.2" height="5.62" fill="#fce2c4" transform="translate(277.2 274.2) rotate(205.494)"/>
<rect x="208.8" y="-2.81" width="37.7" height="5.62" fill="#fce2c4" transform="translate(277.2 274.2) rotate(206.996)"/>
<rect x="208.8" y="-2.81" width="25.8" height="5.62" fill="#fce2c4" transform="translate(277.2 274.2) rotate(208.498)"/>
<rect x="208.8" y="-2.81" width="57.9" height="5.62" fill="#fce2c4" transform="translate(277.2 274.2) rotate(210.000)"/>
</g>
<g font-family="'Liberation Serif', serif" font-weight="bold" font-size="11.5" fill="#1a1a1a" stroke="#1a1a1a" stroke-width="0.45">
<text text-anchor="end" transform="translate(277.2 274.2) rotate(40.000) translate(-209.6 1.85) scale(0.5)">Zm00001eb189030</text>
<text text-anchor="end" transform="translate(277.2 274.2) rotate(41.502) translate(-209.6 1.85) scale(0.5)">Zm00001eb074210</text>
<text text-anchor="end" transform="translate(277.2 274.2) rotate(43.004) translate(-209.6 1.85) scale(0.5)">Os02g0666200</text>
<text text-anchor="end" transform="translate(277.2 274.2) rotate(44.506) translate(-209.6 1.85) scale(0.5)">TtAQP3</text>
<text text-anchor="end" transform="translate(277.2 274.2) rotate(46.009) translate(-209.6 1.85) scale(0.5)">TtAQP2</text>
<text text-anchor="end" transform="translate(277.2 274.2) rotate(47.511) translate(-209.6 1.85) scale(0.5)">HORVU6Hr1G061410</text>
<text text-anchor="end" transform="translate(277.2 274.2) rotate(49.013) translate(-209.6 1.85) scale(0.5)">Zm00001eb249940</text>
<text text-anchor="end" transform="translate(277.2 274.2) rotate(50.515) translate(-209.6 1.85) scale(0.5)">Os04g0559700</text>
<text text-anchor="end" transform="translate(277.2 274.2) rotate(52.017) translate(-209.6 1.85) scale(0.5)">Os02g0823100</text>
<text text-anchor="end" transform="translate(277.2 274.2) rotate(53.519) translate(-209.6 1.85) scale(0.5)">TtAQP4</text>
<text text-anchor="end" transform="translate(277.2 274.2) rotate(55.021) translate(-209.6 1.85) scale(0.5)">TtAQP8</text>
<text text-anchor="end" transform="translate(277.2 274.2) rotate(56.524) translate(-209.6 1.85) scale(0.5)">HORVU2Hr1G096330</text>
<text text-anchor="end" transform="translate(277.2 274.2) rotate(58.026) translate(-209.6 1.85) scale(0.5)">HORVU6Hr1G058990</text>
<text text-anchor="end" transform="translate(277.2 274.2) rotate(59.528) translate(-209.6 1.85) scale(0.5)">TtAQP1</text>
<text text-anchor="end" transform="translate(277.2 274.2) rotate(61.030) translate(-209.6 1.85) scale(0.5)">TtAQP5</text>
<text text-anchor="end" transform="translate(277.2 274.2) rotate(62.532) translate(-209.6 1.85) scale(0.5)">TtAQP7</text>
<text text-anchor="end" transform="translate(277.2 274.2) rotate(64.034) translate(-209.6 1.85) scale(0.5)">TtAQP6</text>
<text text-anchor="end" transform="translate(277.2 274.2) rotate(65.536) translate(-209.6 1.85) scale(0.5)">HORVU2Hr1G096360</text>
<text text-anchor="end" transform="translate(277.2 274.2) rotate(67.039) translate(-209.6 1.85) scale(0.5)">TtAQP9</text>
<text text-anchor="end" transform="translate(277.2 274.2) rotate(68.541) translate(-209.6 1.85) scale(0.5)">TtAQP16</text>
<text text-anchor="end" transform="translate(277.2 274.2) rotate(70.043) translate(-209.6 1.85) scale(0.5)">AT4G23400</text>
<text text-anchor="end" transform="translate(277.2 274.2) rotate(71.545) translate(-209.6 1.85) scale(0.5)">AT4G00430</text>
<text text-anchor="end" transform="translate(277.2 274.2) rotate(73.047) translate(-209.6 1.85) scale(0.5)">AT1G01620</text>
<text text-anchor="end" transform="translate(277.2 274.2) rotate(74.549) translate(-209.6 1.85) scale(0.5)">AT3G61430</text>
<text text-anchor="end" transform="translate(277.2 274.2) rotate(76.052) translate(-209.6 1.85) scale(0.5)">AT2G45960</text>
<text text-anchor="end" transform="translate(277.2 274.2) rotate(77.554) translate(-209.6 1.85) scale(0.5)">AT2G16850</text>
<text text-anchor="end" transform="translate(277.2 274.2) rotate(79.056) translate(-209.6 1.85) scale(0.5)">AT4G35100</text>
<text text-anchor="end" transform="translate(277.2 274.2) rotate(80.558) translate(-209.6 1.85) scale(0.5)">Os09g0541000</text>
<text text-anchor="end" transform="translate(277.2 274.2) rotate(82.060) translate(-209.6 1.85) scale(0.5)">TtAQP98</text>
<text text-anchor="end" transform="translate(277.2 274.2) rotate(83.562) translate(-209.6 1.85) scale(0.5)">TtAQP13</text>
<text text-anchor="end" transform="translate(277.2 274.2) rotate(85.064) translate(-209.6 1.85) scale(0.5)">HORVU2Hr1G010990</text>
<text text-anchor="end" transform="translate(277.2 274.2) rotate(86.567) translate(-209.6 1.85) scale(0.5)">TtAQP33</text>
<text text-anchor="end" transform="translate(277.2 274.2) rotate(88.069) translate(-209.6 1.85) scale(0.5)">TtAQP35</text>
<text text-anchor="end" transform="translate(277.2 274.2) rotate(89.571) translate(-209.6 1.85) scale(0.5)">TtAQP73</text>
<text transform="translate(277.2 274.2) rotate(-88.927) translate(209.6 1.85) scale(0.5)">TtAQP96</text>
<text transform="translate(277.2 274.2) rotate(-87.425) translate(209.6 1.85) scale(0.5)">Zm00001eb331830</text>
<text transform="translate(277.2 274.2) rotate(-85.923) translate(209.6 1.85) scale(0.5)">Os04g0233400</text>
<text transform="translate(277.2 274.2) rotate(-84.421) translate(209.6 1.85) scale(0.5)">TtAQP40</text>
<text transform="translate(277.2 274.2) rotate(-82.918) translate(209.6 1.85) scale(0.5)">HORVU5Hr1G084230</text>
<text transform="translate(277.2 274.2) rotate(-81.416) translate(209.6 1.85) scale(0.5)">TtAQP46</text>
<text transform="translate(277.2 274.2) rotate(-79.914) translate(209.6 1.85) scale(0.5)">AT5G60660</text>
<text transform="translate(277.2 274.2) rotate(-78.412) translate(209.6 1.85) scale(0.5)">AT2G39010</text>
<text transform="translate(277.2 274.2) rotate(-76.910) translate(209.6 1.85) scale(0.5)">AT3G54820</text>
<text transform="translate(277.2 274.2) rotate(-75.408) translate(209.6 1.85) scale(0.5)">AT3G53420</text>
<text transform="translate(277.2 274.2) rotate(-73.906) translate(209.6 1.85) scale(0.5)">AT2G37170</text>
<text transform="translate(277.2 274.2) rotate(-72.403) translate(209.6 1.85) scale(0.5)">AT2G37180</text>
<text transform="translate(277.2 274.2) rotate(-70.901) translate(209.6 1.85) scale(0.5)">Zm00001eb183300</text>
<text transform="translate(277.2 274.2) rotate(-69.399) translate(209.6 1.85) scale(0.5)">Zm00001eb247700</text>
<text transform="translate(277.2 274.2) rotate(-67.897) translate(209.6 1.85) scale(0.5)">Os07g0448800</text>
<text transform="translate(277.2 274.2) rotate(-66.395) translate(209.6 1.85) scale(0.5)">TtAQP17</text>
<text transform="translate(277.2 274.2) rotate(-64.893) translate(209.6 1.85) scale(0.5)">TtAQP53</text>
<text transform="translate(277.2 274.2) rotate(-63.391) translate(209.6 1.85) scale(0.5)">Zm00001eb077130</text>
<text transform="translate(277.2 274.2) rotate(-61.888) translate(209.6 1.85) scale(0.5)">Os04g0521100</text>
<text transform="translate(277.2 274.2) rotate(-60.386) translate(209.6 1.85) scale(0.5)">TtAQP12</text>
<text transform="translate(277.2 274.2) rotate(-58.884) translate(209.6 1.85) scale(0.5)">TtAQP58</text>
<text transform="translate(277.2 274.2) rotate(-57.382) translate(209.6 1.85) scale(0.5)">HORVU2Hr1G089940</text>
<text transform="translate(277.2 274.2) rotate(-55.880) translate(209.6 1.85) scale(0.5)">HORVU2Hr1G089970</text>
<text transform="translate(277.2 274.2) rotate(-54.378) translate(209.6 1.85) scale(0.5)">Os07g0448100</text>
<text transform="translate(277.2 274.2) rotate(-52.876) translate(209.6 1.85) scale(0.5)">Zm00001eb069420</text>
<text transform="translate(277.2 274.2) rotate(-51.373) translate(209.6 1.85) scale(0.5)">Zm00001eb306400</text>
<text transform="translate(277.2 274.2) rotate(-49.871) translate(209.6 1.85) scale(0.5)">TtAQP15</text>
<text transform="translate(277.2 274.2) rotate(-48.369) translate(209.6 1.85) scale(0.5)">HORVU2Hr1G089860</text>
<text transform="translate(277.2 274.2) rotate(-46.867) translate(209.6 1.85) scale(0.5)">TtAQP85</text>
<text transform="translate(277.2 274.2) rotate(-45.365) translate(209.6 1.85) scale(0.5)">Os07g0448400</text>
<text transform="translate(277.2 274.2) rotate(-43.863) translate(209.6 1.85) scale(0.5)">Os07g0448200</text>
<text transform="translate(277.2 274.2) rotate(-42.361) translate(209.6 1.85) scale(0.5)">Zm00001eb069430</text>
<text transform="translate(277.2 274.2) rotate(-40.858) translate(209.6 1.85) scale(0.5)">Zm00001eb306420</text>
<text transform="translate(277.2 274.2) rotate(-39.356) translate(209.6 1.85) scale(0.5)">TtAQP38</text>
<text transform="translate(277.2 274.2) rotate(-37.854) translate(209.6 1.85) scale(0.5)">HORVU5Hr1G027240</text>
<text transform="translate(277.2 274.2) rotate(-36.352) translate(209.6 1.85) scale(0.5)">HORVU5Hr1G029250</text>
<text transform="translate(277.2 274.2) rotate(-34.850) translate(209.6 1.85) scale(0.5)">Zm00001eb223910</text>
<text transform="translate(277.2 274.2) rotate(-33.348) translate(209.6 1.85) scale(0.5)">Os03g0861300</text>
<text transform="translate(277.2 274.2) rotate(-31.845) translate(209.6 1.85) scale(0.5)">TtAQP79</text>
<text transform="translate(277.2 274.2) rotate(-30.343) translate(209.6 1.85) scale(0.5)">HORVU6Hr1G014490</text>
<text transform="translate(277.2 274.2) rotate(-28.841) translate(209.6 1.85) scale(0.5)">TtAQP44</text>
<text transform="translate(277.2 274.2) rotate(-27.339) translate(209.6 1.85) scale(0.5)">TtAQP37</text>
<text transform="translate(277.2 274.2) rotate(-25.837) translate(209.6 1.85) scale(0.5)">HORVU6Hr1G014300</text>
<text transform="translate(277.2 274.2) rotate(-24.335) translate(209.6 1.85) scale(0.5)">TtAQP64</text>
<text transform="translate(277.2 274.2) rotate(-22.833) translate(209.6 1.85) scale(0.5)">TtAQP51</text>
<text transform="translate(277.2 274.2) rotate(-21.330) translate(209.6 1.85) scale(0.5)">TtAQP48</text>
<text transform="translate(277.2 274.2) rotate(-19.828) translate(209.6 1.85) scale(0.5)">TtAQP75</text>
<text transform="translate(277.2 274.2) rotate(-18.326) translate(209.6 1.85) scale(0.5)">TtAQP49</text>
<text transform="translate(277.2 274.2) rotate(-16.824) translate(209.6 1.85) scale(0.5)">TtAQP30</text>
<text transform="translate(277.2 274.2) rotate(-15.322) translate(209.6 1.85) scale(0.5)">TtAQP74</text>
<text transform="translate(277.2 274.2) rotate(-13.820) translate(209.6 1.85) scale(0.5)">HORVU5Hr1G125600</text>
<text transform="translate(277.2 274.2) rotate(-12.318) translate(209.6 1.85) scale(0.5)">AT2G25810</text>
<text transform="translate(277.2 274.2) rotate(-10.815) translate(209.6 1.85) scale(0.5)">Zm00001eb119200</text>
<text transform="translate(277.2 274.2) rotate(-9.313) translate(209.6 1.85) scale(0.5)">Os01g0232000</text>
<text transform="translate(277.2 274.2) rotate(-7.811) translate(209.6 1.85) scale(0.5)">TtAQP23</text>
<text transform="translate(277.2 274.2) rotate(-6.309) translate(209.6 1.85) scale(0.5)">HORVU3Hr1G031620</text>
<text transform="translate(277.2 274.2) rotate(-4.807) translate(209.6 1.85) scale(0.5)">HORVU3Hr1G031680</text>
<text transform="translate(277.2 274.2) rotate(-3.305) translate(209.6 1.85) scale(0.5)">Zm00001eb123230</text>
<text transform="translate(277.2 274.2) rotate(-1.803) translate(209.6 1.85) scale(0.5)">Os01g0232100</text>
<text transform="translate(277.2 274.2) rotate(-0.300) translate(209.6 1.85) scale(0.5)">Zm00001eb315230</text>
<text transform="translate(277.2 274.2) rotate(1.202) translate(209.6 1.85) scale(0.5)">Zm00001eb284350</text>
<text transform="translate(277.2 274.2) rotate(2.704) translate(209.6 1.85) scale(0.5)">Os05g0231700</text>
<text transform="translate(277.2 274.2) rotate(4.206) translate(209.6 1.85) scale(0.5)">TtAQP42</text>
<text transform="translate(277.2 274.2) rotate(5.708) translate(209.6 1.85) scale(0.5)">TtAQP36</text>
<text transform="translate(277.2 274.2) rotate(7.210) translate(209.6 1.85) scale(0.5)">AT3G47440</text>
<text transform="translate(277.2 274.2) rotate(8.712) translate(209.6 1.85) scale(0.5)">TtAQP18</text>
<text transform="translate(277.2 274.2) rotate(10.215) translate(209.6 1.85) scale(0.5)">TtAQP11</text>
<text transform="translate(277.2 274.2) rotate(11.717) translate(209.6 1.85) scale(0.5)">Os04g0550800</text>
<text transform="translate(277.2 274.2) rotate(13.219) translate(209.6 1.85) scale(0.5)">Zm00001eb429760</text>
<text transform="translate(277.2 274.2) rotate(14.721) translate(209.6 1.85) scale(0.5)">AT3G16240</text>
<text transform="translate(277.2 274.2) rotate(16.223) translate(209.6 1.85) scale(0.5)">Os06g0336200</text>
<text transform="translate(277.2 274.2) rotate(17.725) translate(209.6 1.85) scale(0.5)">HORVU7Hr1G081770</text>
<text transform="translate(277.2 274.2) rotate(19.227) translate(209.6 1.85) scale(0.5)">TtAQP78</text>
<text transform="translate(277.2 274.2) rotate(20.730) translate(209.6 1.85) scale(0.5)">TtAQP69</text>
<text transform="translate(277.2 274.2) rotate(22.232) translate(209.6 1.85) scale(0.5)">AT4G17340</text>
<text transform="translate(277.2 274.2) rotate(23.734) translate(209.6 1.85) scale(0.5)">AT5G47450</text>
<text transform="translate(277.2 274.2) rotate(25.236) translate(209.6 1.85) scale(0.5)">HORVU6Hr1G062980</text>
<text transform="translate(277.2 274.2) rotate(26.738) translate(209.6 1.85) scale(0.5)">HORVU0Hr1G032130</text>
<text transform="translate(277.2 274.2) rotate(28.240) translate(209.6 1.85) scale(0.5)">TtAQP52</text>
<text transform="translate(277.2 274.2) rotate(29.742) translate(209.6 1.85) scale(0.5)">TtAQP55</text>
<text transform="translate(277.2 274.2) rotate(31.245) translate(209.6 1.85) scale(0.5)">Zm00001eb186570</text>
<text transform="translate(277.2 274.2) rotate(32.747) translate(209.6 1.85) scale(0.5)">Os02g0658100</text>
<text transform="translate(277.2 274.2) rotate(34.249) translate(209.6 1.85) scale(0.5)">Zm00001eb429750</text>
<text transform="translate(277.2 274.2) rotate(35.751) translate(209.6 1.85) scale(0.5)">Zm00001eb074660</text>
<text transform="translate(277.2 274.2) rotate(37.253) translate(209.6 1.85) scale(0.5)">HORVU2Hr1G097780</text>
<text transform="translate(277.2 274.2) rotate(38.755) translate(209.6 1.85) scale(0.5)">TtAQP57</text>
<text transform="translate(277.2 274.2) rotate(40.258) translate(209.6 1.85) scale(0.5)">TtAQP10</text>
<text transform="translate(277.2 274.2) rotate(41.760) translate(209.6 1.85) scale(0.5)">Os03g0146100</text>
<text transform="translate(277.2 274.2) rotate(43.262) translate(209.6 1.85) scale(0.5)">Zm00001eb003750</text>
<text transform="translate(277.2 274.2) rotate(44.764) translate(209.6 1.85) scale(0.5)">TtAQP65</text>
<text transform="translate(277.2 274.2) rotate(46.266) translate(209.6 1.85) scale(0.5)">TtAQP21</text>
<text transform="translate(277.2 274.2) rotate(47.768) translate(209.6 1.85) scale(0.5)">AT3G26520</text>
<text transform="translate(277.2 274.2) rotate(49.270) translate(209.6 1.85) scale(0.5)">AT2G36830</text>
<text transform="translate(277.2 274.2) rotate(50.773) translate(209.6 1.85) scale(0.5)">AT4G01470</text>
<text transform="translate(277.2 274.2) rotate(52.275) translate(209.6 1.85) scale(0.5)">Zm00001eb361270</text>
<text transform="translate(277.2 274.2) rotate(53.777) translate(209.6 1.85) scale(0.5)">Os10g0492600</text>
<text transform="translate(277.2 274.2) rotate(55.279) translate(209.6 1.85) scale(0.5)">TtAQP26</text>
<text transform="translate(277.2 274.2) rotate(56.781) translate(209.6 1.85) scale(0.5)">TtAQP31</text>
<text transform="translate(277.2 274.2) rotate(58.283) translate(209.6 1.85) scale(0.5)">HORVU1Hr1G043890</text>
<text transform="translate(277.2 274.2) rotate(59.785) translate(209.6 1.85) scale(0.5)">AT1G17810</text>
<text transform="translate(277.2 274.2) rotate(61.288) translate(209.6 1.85) scale(0.5)">AT1G73190</text>
<text transform="translate(277.2 274.2) rotate(62.790) translate(209.6 1.85) scale(0.5)">Zm00001eb007960</text>
<text transform="translate(277.2 274.2) rotate(64.292) translate(209.6 1.85) scale(0.5)">Os04g0527900</text>
<text transform="translate(277.2 274.2) rotate(65.794) translate(209.6 1.85) scale(0.5)">TtAQP14</text>
<text transform="translate(277.2 274.2) rotate(67.296) translate(209.6 1.85) scale(0.5)">TtAQP87</text>
<text transform="translate(277.2 274.2) rotate(68.798) translate(209.6 1.85) scale(0.5)">Zm00001eb441790</text>
<text transform="translate(277.2 274.2) rotate(70.300) translate(209.6 1.85) scale(0.5)">TtAQP83</text>
<text transform="translate(277.2 274.2) rotate(71.803) translate(209.6 1.85) scale(0.5)">TtAQP81</text>
<text transform="translate(277.2 274.2) rotate(73.305) translate(209.6 1.85) scale(0.5)">Os06g0483600</text>
<text transform="translate(277.2 274.2) rotate(74.807) translate(209.6 1.85) scale(0.5)">Zm00001eb231090</text>
<text transform="translate(277.2 274.2) rotate(76.309) translate(209.6 1.85) scale(0.5)">Zm00001eb044800</text>
<text transform="translate(277.2 274.2) rotate(77.811) translate(209.6 1.85) scale(0.5)">HORVU4Hr1G052170</text>
<text transform="translate(277.2 274.2) rotate(79.313) translate(209.6 1.85) scale(0.5)">HORVU4Hr1G024470</text>
<text transform="translate(277.2 274.2) rotate(80.815) translate(209.6 1.85) scale(0.5)">AT3G56950</text>
<text transform="translate(277.2 274.2) rotate(82.318) translate(209.6 1.85) scale(0.5)">Zm00001eb013230</text>
<text transform="translate(277.2 274.2) rotate(83.820) translate(209.6 1.85) scale(0.5)">Os03g0320000</text>
<text transform="translate(277.2 274.2) rotate(85.322) translate(209.6 1.85) scale(0.5)">TtAQP34</text>
<text transform="translate(277.2 274.2) rotate(86.824) translate(209.6 1.85) scale(0.5)">TtAQP27</text>
<text transform="translate(277.2 274.2) rotate(88.326) translate(209.6 1.85) scale(0.5)">HORVU7Hr1G106480</text>
<text transform="translate(277.2 274.2) rotate(89.828) translate(209.6 1.85) scale(0.5)">AT3G04090</text>
<text text-anchor="end" transform="translate(277.2 274.2) rotate(271.330) translate(-209.6 1.85) scale(0.5)">AT5G18290</text>
<text text-anchor="end" transform="translate(277.2 274.2) rotate(272.833) translate(-209.6 1.85) scale(0.5)">TtAQP28</text>
<text text-anchor="end" transform="translate(277.2 274.2) rotate(274.335) translate(-209.6 1.85) scale(0.5)">TtAQP32</text>
<text text-anchor="end" transform="translate(277.2 274.2) rotate(275.837) translate(-209.6 1.85) scale(0.5)">Zm00001eb348840</text>
<text text-anchor="end" transform="translate(277.2 274.2) rotate(277.339) translate(-209.6 1.85) scale(0.5)">Os01g0182200</text>
<text text-anchor="end" transform="translate(277.2 274.2) rotate(278.841) translate(-209.6 1.85) scale(0.5)">Zm00001eb165790</text>
<text text-anchor="end" transform="translate(277.2 274.2) rotate(280.343) translate(-209.6 1.85) scale(0.5)">Zm00001eb253590</text>
<text text-anchor="end" transform="translate(277.2 274.2) rotate(281.845) translate(-209.6 1.85) scale(0.5)">Zm00001eb362730</text>
<text text-anchor="end" transform="translate(277.2 274.2) rotate(283.348) translate(-209.6 1.85) scale(0.5)">Zm00001eb404830</text>
<text text-anchor="end" transform="translate(277.2 274.2) rotate(284.850) translate(-209.6 1.85) scale(0.5)">TtAQP54</text>
<text text-anchor="end" transform="translate(277.2 274.2) rotate(286.352) translate(-209.6 1.85) scale(0.5)">TtAQP60</text>
<text text-anchor="end" transform="translate(277.2 274.2) rotate(287.854) translate(-209.6 1.85) scale(0.5)">HORVU6Hr1G077130</text>
<text text-anchor="end" transform="translate(277.2 274.2) rotate(289.356) translate(-209.6 1.85) scale(0.5)">HORVU6Hr1G081750</text>
<text text-anchor="end" transform="translate(277.2 274.2) rotate(290.858) translate(-209.6 1.85) scale(0.5)">Zm00001eb254540</text>
<text text-anchor="end" transform="translate(277.2 274.2) rotate(292.361) translate(-209.6 1.85) scale(0.5)">Zm00001eb255430</text>
<text text-anchor="end" transform="translate(277.2 274.2) rotate(293.863) translate(-209.6 1.85) scale(0.5)">Zm00001eb194930</text>
<text text-anchor="end" transform="translate(277.2 274.2) rotate(295.365) translate(-209.6 1.85) scale(0.5)">Os02g0745100</text>
<text text-anchor="end" transform="translate(277.2 274.2) rotate(296.867) translate(-209.6 1.85) scale(0.5)">Zm00001eb237480</text>
<text text-anchor="end" transform="translate(277.2 274.2) rotate(298.369) translate(-209.6 1.85) scale(0.5)">Zm00001eb438220</text>
<text text-anchor="end" transform="translate(277.2 274.2) rotate(299.871) translate(-209.6 1.85) scale(0.5)">HORVU7Hr1G038220</text>
<text text-anchor="end" transform="translate(277.2 274.2) rotate(301.373) translate(-209.6 1.85) scale(0.5)">Os06g0228200</text>
<text text-anchor="end" transform="translate(277.2 274.2) rotate(302.876) translate(-209.6 1.85) scale(0.5)">HORVU7Hr1G038170</text>
<text text-anchor="end" transform="translate(277.2 274.2) rotate(304.378) translate(-209.6 1.85) scale(0.5)">TtAQP72</text>
<text text-anchor="end" transform="translate(277.2 274.2) rotate(305.880) translate(-209.6 1.85) scale(0.5)">TtAQP82</text>
<text text-anchor="end" transform="translate(277.2 274.2) rotate(307.382) translate(-209.6 1.85) scale(0.5)">AT3G06100</text>
<text text-anchor="end" transform="translate(277.2 274.2) rotate(308.884) translate(-209.6 1.85) scale(0.5)">AT1G80760</text>
<text text-anchor="end" transform="translate(277.2 274.2) rotate(310.386) translate(-209.6 1.85) scale(0.5)">AT4G10380</text>
<text text-anchor="end" transform="translate(277.2 274.2) rotate(311.888) translate(-209.6 1.85) scale(0.5)">Os10g0513200</text>
<text text-anchor="end" transform="translate(277.2 274.2) rotate(313.391) translate(-209.6 1.85) scale(0.5)">Zm00001eb044650</text>
<text text-anchor="end" transform="translate(277.2 274.2) rotate(314.893) translate(-209.6 1.85) scale(0.5)">HORVU1Hr1G047100</text>
<text text-anchor="end" transform="translate(277.2 274.2) rotate(316.395) translate(-209.6 1.85) scale(0.5)">TtAQP92</text>
<text text-anchor="end" transform="translate(277.2 274.2) rotate(317.897) translate(-209.6 1.85) scale(0.5)">TtAQP91</text>
<text text-anchor="end" transform="translate(277.2 274.2) rotate(319.399) translate(-209.6 1.85) scale(0.5)">Os06g0121000</text>
<text text-anchor="end" transform="translate(277.2 274.2) rotate(320.901) translate(-209.6 1.85) scale(0.5)">Zm00001eb416440</text>
<text text-anchor="end" transform="translate(277.2 274.2) rotate(322.403) translate(-209.6 1.85) scale(0.5)">Zm00001eb172850</text>
<text text-anchor="end" transform="translate(277.2 274.2) rotate(323.906) translate(-209.6 1.85) scale(0.5)">TtAQP77</text>
<text text-anchor="end" transform="translate(277.2 274.2) rotate(325.408) translate(-209.6 1.85) scale(0.5)">TtAQP62</text>
<text text-anchor="end" transform="translate(277.2 274.2) rotate(326.910) translate(-209.6 1.85) scale(0.5)">Os12g0204100</text>
<text text-anchor="end" transform="translate(277.2 274.2) rotate(328.412) translate(-209.6 1.85) scale(0.5)">Os08g0152000</text>
<text text-anchor="end" transform="translate(277.2 274.2) rotate(329.914) translate(-209.6 1.85) scale(0.5)">Os08g0152100</text>
<text text-anchor="end" transform="translate(277.2 274.2) rotate(331.416) translate(-209.6 1.85) scale(0.5)">TtAQP43</text>
<text text-anchor="end" transform="translate(277.2 274.2) rotate(332.918) translate(-209.6 1.85) scale(0.5)">TtAQP25</text>
<text text-anchor="end" transform="translate(277.2 274.2) rotate(334.421) translate(-209.6 1.85) scale(0.5)">HORVU3Hr1G079560</text>
<text text-anchor="end" transform="translate(277.2 274.2) rotate(335.923) translate(-209.6 1.85) scale(0.5)">HORVU7Hr1G038940</text>
<text text-anchor="end" transform="translate(277.2 274.2) rotate(337.425) translate(-209.6 1.85) scale(0.5)">TtAQP89</text>
<text text-anchor="end" transform="translate(277.2 274.2) rotate(338.927) translate(-209.6 1.85) scale(0.5)">HORVU0Hr1G011280</text>
<text text-anchor="end" transform="translate(277.2 274.2) rotate(340.429) translate(-209.6 1.85) scale(0.5)">HORVU6Hr1G092970</text>
<text text-anchor="end" transform="translate(277.2 274.2) rotate(341.931) translate(-209.6 1.85) scale(0.5)">Zm00001eb126240</text>
<text text-anchor="end" transform="translate(277.2 274.2) rotate(343.433) translate(-209.6 1.85) scale(0.5)">Os01g0112400</text>
<text text-anchor="end" transform="translate(277.2 274.2) rotate(344.936) translate(-209.6 1.85) scale(0.5)">TtAQP24</text>
<text text-anchor="end" transform="translate(277.2 274.2) rotate(346.438) translate(-209.6 1.85) scale(0.5)">TtAQP20</text>
<text text-anchor="end" transform="translate(277.2 274.2) rotate(347.940) translate(-209.6 1.85) scale(0.5)">HORVU3Hr1G001320</text>
<text text-anchor="end" transform="translate(277.2 274.2) rotate(349.442) translate(-209.6 1.85) scale(0.5)">HORVU3Hr1G001420</text>
<text text-anchor="end" transform="translate(277.2 274.2) rotate(350.944) translate(-209.6 1.85) scale(0.5)">AT5G37820</text>
<text text-anchor="end" transform="translate(277.2 274.2) rotate(352.446) translate(-209.6 1.85) scale(0.5)">AT5G37810</text>
<text text-anchor="end" transform="translate(277.2 274.2) rotate(353.948) translate(-209.6 1.85) scale(0.5)">Os01g0202800</text>
<text text-anchor="end" transform="translate(277.2 274.2) rotate(355.451) translate(-209.6 1.85) scale(0.5)">TtAQP22</text>
<text text-anchor="end" transform="translate(277.2 274.2) rotate(356.953) translate(-209.6 1.85) scale(0.5)">TtAQP19</text>
<text text-anchor="end" transform="translate(277.2 274.2) rotate(358.455) translate(-209.6 1.85) scale(0.5)">Zm00001eb283960</text>
<text text-anchor="end" transform="translate(277.2 274.2) rotate(359.957) translate(-209.6 1.85) scale(0.5)">Os05g0205050</text>
<text text-anchor="end" transform="translate(277.2 274.2) rotate(361.459) translate(-209.6 1.85) scale(0.5)">HORVU7Hr1G121250</text>
<text text-anchor="end" transform="translate(277.2 274.2) rotate(362.961) translate(-209.6 1.85) scale(0.5)">TtAQP80</text>
<text text-anchor="end" transform="translate(277.2 274.2) rotate(364.464) translate(-209.6 1.85) scale(0.5)">TtAQP71</text>
<text text-anchor="end" transform="translate(277.2 274.2) rotate(365.966) translate(-209.6 1.85) scale(0.5)">HORVU5Hr1G085710</text>
<text text-anchor="end" transform="translate(277.2 274.2) rotate(367.468) translate(-209.6 1.85) scale(0.5)">TtAQP47</text>
<text text-anchor="end" transform="translate(277.2 274.2) rotate(368.970) translate(-209.6 1.85) scale(0.5)">TtAQP41</text>
<text text-anchor="end" transform="translate(277.2 274.2) rotate(370.472) translate(-209.6 1.85) scale(0.5)">AT4G19030</text>
<text text-anchor="end" transform="translate(277.2 274.2) rotate(371.974) translate(-209.6 1.85) scale(0.5)">AT4G18910</text>
<text text-anchor="end" transform="translate(277.2 274.2) rotate(373.476) translate(-209.6 1.85) scale(0.5)">AT1G31885</text>
<text text-anchor="end" transform="translate(277.2 274.2) rotate(374.979) translate(-209.6 1.85) scale(0.5)">AT2G34390</text>
<text text-anchor="end" transform="translate(277.2 274.2) rotate(376.481) translate(-209.6 1.85) scale(0.5)">Os02g0232900</text>
<text text-anchor="end" transform="translate(277.2 274.2) rotate(377.983) translate(-209.6 1.85) scale(0.5)">TtAQP76</text>
<text text-anchor="end" transform="translate(277.2 274.2) rotate(379.485) translate(-209.6 1.85) scale(0.5)">TtAQP67</text>
<text text-anchor="end" transform="translate(277.2 274.2) rotate(380.987) translate(-209.6 1.85) scale(0.5)">HORVU7Hr1G043600</text>
<text text-anchor="end" transform="translate(277.2 274.2) rotate(382.489) translate(-209.6 1.85) scale(0.5)">HORVU7Hr1G043590</text>
<text text-anchor="end" transform="translate(277.2 274.2) rotate(383.991) translate(-209.6 1.85) scale(0.5)">Zm00001eb239170</text>
<text text-anchor="end" transform="translate(277.2 274.2) rotate(385.494) translate(-209.6 1.85) scale(0.5)">Zm00001eb384890</text>
<text text-anchor="end" transform="translate(277.2 274.2) rotate(386.996) translate(-209.6 1.85) scale(0.5)">Os06g0552700</text>
<text text-anchor="end" transform="translate(277.2 274.2) rotate(388.498) translate(-209.6 1.85) scale(0.5)">TtAQP70</text>
<text text-anchor="end" transform="translate(277.2 274.2) rotate(390.000) translate(-209.6 1.85) scale(0.5)">HORVU7Hr1G088990</text>
</g>
<g>
<polygon points="0.00,-2.30 0.57,-0.78 2.19,-0.71 0.92,0.30 1.35,1.86 0.00,0.97 -1.35,1.86 -0.92,0.30 -2.19,-0.71 -0.57,-0.78" fill="#000000" transform="translate(119.39 141.79)"/>
<polygon points="0.00,-2.30 0.57,-0.78 2.19,-0.71 0.92,0.30 1.35,1.86 0.00,0.97 -1.35,1.86 -0.92,0.30 -2.19,-0.71 -0.57,-0.78" fill="#000000" transform="translate(122.92 137.69)"/>
<rect x="-1.15" y="-1.15" width="2.3" height="2.3" fill="#74c80a" transform="translate(127.06 134.17) rotate(-47.00)"/>
<rect x="-1.15" y="-1.15" width="2.3" height="2.3" fill="#ff0000" transform="translate(130.79 130.29) rotate(-45.49)"/>
<rect x="-1.15" y="-1.15" width="2.3" height="2.3" fill="#ff0000" transform="translate(134.61 126.50) rotate(-43.99)"/>
<polygon points="0.00,-2.30 0.57,-0.78 2.19,-0.71 0.92,0.30 1.35,1.86 0.00,0.97 -1.35,1.86 -0.92,0.30 -2.19,-0.71 -0.57,-0.78" fill="#fbb427" transform="translate(137.52 121.70)"/>
<polygon points="0.00,-2.30 0.57,-0.78 2.19,-0.71 0.92,0.30 1.35,1.86 0.00,0.97 -1.35,1.86 -0.92,0.30 -2.19,-0.71 -0.57,-0.78" fill="#000000" transform="translate(142.09 118.70)"/>
<rect x="-1.15" y="-1.15" width="2.3" height="2.3" fill="#74c80a" transform="translate(146.65 115.75) rotate(-39.48)"/>
<rect x="-1.15" y="-1.15" width="2.3" height="2.3" fill="#74c80a" transform="translate(150.85 112.38) rotate(-37.98)"/>
<rect x="-1.15" y="-1.15" width="2.3" height="2.3" fill="#ff0000" transform="translate(155.14 109.13) rotate(-36.48)"/>
<rect x="-1.15" y="-1.15" width="2.3" height="2.3" fill="#ff0000" transform="translate(159.51 105.98) rotate(-34.98)"/>
<polygon points="0.00,-2.30 0.57,-0.78 2.19,-0.71 0.92,0.30 1.35,1.86 0.00,0.97 -1.35,1.86 -0.92,0.30 -2.19,-0.71 -0.57,-0.78" fill="#fbb427" transform="translate(163.13 101.71)"/>
<polygon points="0.00,-2.30 0.57,-0.78 2.19,-0.71 0.92,0.30 1.35,1.86 0.00,0.97 -1.35,1.86 -0.92,0.30 -2.19,-0.71 -0.57,-0.78" fill="#fbb427" transform="translate(167.69 98.77)"/>
<rect x="-1.15" y="-1.15" width="2.3" height="2.3" fill="#ff0000" transform="translate(173.09 97.26) rotate(-30.47)"/>
<rect x="-1.15" y="-1.15" width="2.3" height="2.3" fill="#ff0000" transform="translate(177.76 94.59) rotate(-28.97)"/>
<rect x="-1.15" y="-1.15" width="2.3" height="2.3" fill="#ff0000" transform="translate(182.51 92.04) rotate(-27.47)"/>
<rect x="-1.15" y="-1.15" width="2.3" height="2.3" fill="#ff0000" transform="translate(187.31 89.62) rotate(-25.97)"/>
<polygon points="0.00,-2.30 0.57,-0.78 2.19,-0.71 0.92,0.30 1.35,1.86 0.00,0.97 -1.35,1.86 -0.92,0.30 -2.19,-0.71 -0.57,-0.78" fill="#fbb427" transform="translate(191.56 85.97)"/>
<rect x="-1.15" y="-1.15" width="2.3" height="2.3" fill="#ff0000" transform="translate(197.11 85.17) rotate(-22.96)"/>
<rect x="-1.15" y="-1.15" width="2.3" height="2.3" fill="#ff0000" transform="translate(202.09 83.13) rotate(-21.46)"/>
<path d="M0 -1.9L1.8 1.5L-1.8 1.5Z" fill="#0a14ff" transform="translate(206.31 78.97) rotate(-19.96)"/>
<path d="M0 -1.9L1.8 1.5L-1.8 1.5Z" fill="#0a14ff" transform="translate(211.45 77.18) rotate(-18.45)"/>
<path d="M0 -1.9L1.8 1.5L-1.8 1.5Z" fill="#0a14ff" transform="translate(216.64 75.53) rotate(-16.95)"/>
<path d="M0 -1.9L1.8 1.5L-1.8 1.5Z" fill="#0a14ff" transform="translate(221.87 74.01) rotate(-15.45)"/>
<path d="M0 -1.9L1.8 1.5L-1.8 1.5Z" fill="#0a14ff" transform="translate(227.13 72.62) rotate(-13.95)"/>
<path d="M0 -1.9L1.8 1.5L-1.8 1.5Z" fill="#0a14ff" transform="translate(232.44 71.38) rotate(-12.45)"/>
<path d="M0 -1.9L1.8 1.5L-1.8 1.5Z" fill="#0a14ff" transform="translate(237.77 70.28) rotate(-10.94)"/>
<rect x="-1.15" y="-1.15" width="2.3" height="2.3" fill="#74c80a" transform="translate(243.52 71.68) rotate(-9.44)"/>
<rect x="-1.15" y="-1.15" width="2.3" height="2.3" fill="#ff0000" transform="translate(248.84 70.87) rotate(-7.94)"/>
<rect x="-1.15" y="-1.15" width="2.3" height="2.3" fill="#ff0000" transform="translate(254.18 70.19) rotate(-6.44)"/>
<polygon points="0.00,-2.30 0.57,-0.78 2.19,-0.71 0.92,0.30 1.35,1.86 0.00,0.97 -1.35,1.86 -0.92,0.30 -2.19,-0.71 -0.57,-0.78" fill="#fbb427" transform="translate(259.41 68.17)"/>
<rect x="-1.15" y="-1.15" width="2.3" height="2.3" fill="#ff0000" transform="translate(264.90 69.27) rotate(-3.43)"/>
<rect x="-1.15" y="-1.15" width="2.3" height="2.3" fill="#ff0000" transform="translate(270.28 69.02) rotate(-1.93)"/>
<rect x="-1.15" y="-1.15" width="2.3" height="2.3" fill="#ff0000" transform="translate(275.66 68.91) rotate(-0.43)"/>
<rect x="-1.15" y="-1.15" width="2.3" height="2.3" fill="#ff0000" transform="translate(281.04 68.94) rotate(1.07)"/>
<polygon points="0.00,-2.30 0.57,-0.78 2.19,-0.71 0.92,0.30 1.35,1.86 0.00,0.97 -1.35,1.86 -0.92,0.30 -2.19,-0.71 -0.57,-0.78" fill="#000000" transform="translate(286.46 68.41)"/>
<rect x="-1.15" y="-1.15" width="2.3" height="2.3" fill="#74c80a" transform="translate(291.80 69.42) rotate(4.08)"/>
<rect x="-1.15" y="-1.15" width="2.3" height="2.3" fill="#ff0000" transform="translate(297.16 69.87) rotate(5.58)"/>
<polygon points="0.00,-2.30 0.57,-0.78 2.19,-0.71 0.92,0.30 1.35,1.86 0.00,0.97 -1.35,1.86 -0.92,0.30 -2.19,-0.71 -0.57,-0.78" fill="#fbb427" transform="translate(302.69 68.98)"/>
<rect x="-1.15" y="-1.15" width="2.3" height="2.3" fill="#ff0000" transform="translate(307.84 71.20) rotate(8.58)"/>
<path d="M0 -1.9L1.8 1.5L-1.8 1.5Z" fill="#0a14ff" transform="translate(313.57 69.71) rotate(10.09)"/>
<path d="M0 -1.9L1.8 1.5L-1.8 1.5Z" fill="#0a14ff" transform="translate(318.92 70.73) rotate(11.59)"/>
<path d="M0 -1.9L1.8 1.5L-1.8 1.5Z" fill="#0a14ff" transform="translate(324.24 71.90) rotate(13.09)"/>
<path d="M0 -1.9L1.8 1.5L-1.8 1.5Z" fill="#0a14ff" transform="translate(329.53 73.20) rotate(14.59)"/>
<path d="M0 -1.9L1.8 1.5L-1.8 1.5Z" fill="#0a14ff" transform="translate(334.78 74.64) rotate(16.09)"/>
<path d="M0 -1.9L1.8 1.5L-1.8 1.5Z" fill="#0a14ff" transform="translate(339.99 76.22) rotate(17.60)"/>
<polygon points="0.00,-2.30 0.57,-0.78 2.19,-0.71 0.92,0.30 1.35,1.86 0.00,0.97 -1.35,1.86 -0.92,0.30 -2.19,-0.71 -0.57,-0.78" fill="#000000" transform="translate(344.60 79.54)"/>
<polygon points="0.00,-2.30 0.57,-0.78 2.19,-0.71 0.92,0.30 1.35,1.86 0.00,0.97 -1.35,1.86 -0.92,0.30 -2.19,-0.71 -0.57,-0.78" fill="#000000" transform="translate(349.68 81.37)"/>
<rect x="-1.15" y="-1.15" width="2.3" height="2.3" fill="#74c80a" transform="translate(354.45 83.99) rotate(22.10)"/>
<rect x="-1.15" y="-1.15" width="2.3" height="2.3" fill="#ff0000" transform="translate(359.41 86.08) rotate(23.61)"/>
<rect x="-1.15" y="-1.15" width="2.3" height="2.3" fill="#ff0000" transform="translate(364.31 88.30) rotate(25.11)"/>
<polygon points="0.00,-2.30 0.57,-0.78 2.19,-0.71 0.92,0.30 1.35,1.86 0.00,0.97 -1.35,1.86 -0.92,0.30 -2.19,-0.71 -0.57,-0.78" fill="#000000" transform="translate(369.47 90.02)"/>
<rect x="-1.15" y="-1.15" width="2.3" height="2.3" fill="#74c80a" transform="translate(373.94 93.12) rotate(28.11)"/>
<rect x="-1.15" y="-1.15" width="2.3" height="2.3" fill="#ff0000" transform="translate(378.65 95.72) rotate(29.61)"/>
<rect x="-1.15" y="-1.15" width="2.3" height="2.3" fill="#ff0000" transform="translate(383.29 98.44) rotate(31.12)"/>
<polygon points="0.00,-2.30 0.57,-0.78 2.19,-0.71 0.92,0.30 1.35,1.86 0.00,0.97 -1.35,1.86 -0.92,0.30 -2.19,-0.71 -0.57,-0.78" fill="#fbb427" transform="translate(388.67 100.02)"/>
<polygon points="0.00,-2.30 0.57,-0.78 2.19,-0.71 0.92,0.30 1.35,1.86 0.00,0.97 -1.35,1.86 -0.92,0.30 -2.19,-0.71 -0.57,-0.78" fill="#fbb427" transform="translate(393.20 103.00)"/>
<rect x="-1.15" y="-1.15" width="2.3" height="2.3" fill="#74c80a" transform="translate(396.77 107.32) rotate(35.62)"/>
<polygon points="0.00,-2.30 0.57,-0.78 2.19,-0.71 0.92,0.30 1.35,1.86 0.00,0.97 -1.35,1.86 -0.92,0.30 -2.19,-0.71 -0.57,-0.78" fill="#000000" transform="translate(401.53 109.95)"/>
<polygon points="0.00,-2.30 0.57,-0.78 2.19,-0.71 0.92,0.30 1.35,1.86 0.00,0.97 -1.35,1.86 -0.92,0.30 -2.19,-0.71 -0.57,-0.78" fill="#000000" transform="translate(405.79 113.27)"/>
<rect x="-1.15" y="-1.15" width="2.3" height="2.3" fill="#ff0000" transform="translate(409.52 117.23) rotate(40.13)"/>
<polygon points="0.00,-2.30 0.57,-0.78 2.19,-0.71 0.92,0.30 1.35,1.86 0.00,0.97 -1.35,1.86 -0.92,0.30 -2.19,-0.71 -0.57,-0.78" fill="#fbb427" transform="translate(414.58 119.63)"/>
<rect x="-1.15" y="-1.15" width="2.3" height="2.3" fill="#ff0000" transform="translate(417.56 124.38) rotate(43.13)"/>
<rect x="-1.15" y="-1.15" width="2.3" height="2.3" fill="#74c80a" transform="translate(421.44 128.11) rotate(44.64)"/>
<rect x="-1.15" y="-1.15" width="2.3" height="2.3" fill="#74c80a" transform="translate(425.22 131.94) rotate(46.14)"/>
<polygon points="0.00,-2.30 0.57,-0.78 2.19,-0.71 0.92,0.30 1.35,1.86 0.00,0.97 -1.35,1.86 -0.92,0.30 -2.19,-0.71 -0.57,-0.78" fill="#000000" transform="translate(429.42 135.40)"/>
<polygon points="0.00,-2.30 0.57,-0.78 2.19,-0.71 0.92,0.30 1.35,1.86 0.00,0.97 -1.35,1.86 -0.92,0.30 -2.19,-0.71 -0.57,-0.78" fill="#000000" transform="translate(433.00 139.44)"/>
<rect x="-1.15" y="-1.15" width="2.3" height="2.3" fill="#ff0000" transform="translate(435.94 144.01) rotate(50.64)"/>
<polygon points="0.00,-2.30 0.57,-0.78 2.19,-0.71 0.92,0.30 1.35,1.86 0.00,0.97 -1.35,1.86 -0.92,0.30 -2.19,-0.71 -0.57,-0.78" fill="#fbb427" transform="translate(440.48 147.30)"/>
<polygon points="0.00,-2.30 0.57,-0.78 2.19,-0.71 0.92,0.30 1.35,1.86 0.00,0.97 -1.35,1.86 -0.92,0.30 -2.19,-0.71 -0.57,-0.78" fill="#fbb427" transform="translate(443.75 151.62)"/>
<polygon points="0.00,-2.30 0.57,-0.78 2.19,-0.71 0.92,0.30 1.35,1.86 0.00,0.97 -1.35,1.86 -0.92,0.30 -2.19,-0.71 -0.57,-0.78" fill="#000000" transform="translate(446.25 156.49)"/>
<rect x="-1.15" y="-1.15" width="2.3" height="2.3" fill="#74c80a" transform="translate(448.70 161.34) rotate(56.65)"/>
<rect x="-1.15" y="-1.15" width="2.3" height="2.3" fill="#ff0000" transform="translate(451.60 165.88) rotate(58.15)"/>
<polygon points="0.00,-2.30 0.57,-0.78 2.19,-0.71 0.92,0.30 1.35,1.86 0.00,0.97 -1.35,1.86 -0.92,0.30 -2.19,-0.71 -0.57,-0.78" fill="#fbb427" transform="translate(455.67 169.73)"/>
<rect x="-1.15" y="-1.15" width="2.3" height="2.3" fill="#ff0000" transform="translate(457.03 175.17) rotate(61.16)"/>
<rect x="-1.15" y="-1.15" width="2.3" height="2.3" fill="#ff0000" transform="translate(459.57 179.91) rotate(62.66)"/>
<polygon points="0.00,-2.30 0.57,-0.78 2.19,-0.71 0.92,0.30 1.35,1.86 0.00,0.97 -1.35,1.86 -0.92,0.30 -2.19,-0.71 -0.57,-0.78" fill="#fbb427" transform="translate(463.33 184.07)"/>
<rect x="-1.15" y="-1.15" width="2.3" height="2.3" fill="#ff0000" transform="translate(464.26 189.60) rotate(65.67)"/>
<rect x="-1.15" y="-1.15" width="2.3" height="2.3" fill="#ff0000" transform="translate(466.41 194.54) rotate(67.17)"/>
<rect x="-1.15" y="-1.15" width="2.3" height="2.3" fill="#ff0000" transform="translate(468.44 199.52) rotate(68.67)"/>
<rect x="-1.15" y="-1.15" width="2.3" height="2.3" fill="#ff0000" transform="translate(470.33 204.56) rotate(70.17)"/>
<rect x="-1.15" y="-1.15" width="2.3" height="2.3" fill="#ff0000" transform="translate(472.09 209.65) rotate(71.67)"/>
<rect x="-1.15" y="-1.15" width="2.3" height="2.3" fill="#ff0000" transform="translate(473.71 214.78) rotate(73.18)"/>
<rect x="-1.15" y="-1.15" width="2.3" height="2.3" fill="#ff0000" transform="translate(475.20 219.95) rotate(74.68)"/>
<polygon points="0.00,-2.30 0.57,-0.78 2.19,-0.71 0.92,0.30 1.35,1.86 0.00,0.97 -1.35,1.86 -0.92,0.30 -2.19,-0.71 -0.57,-0.78" fill="#fbb427" transform="translate(478.01 224.80)"/>
<path d="M0 -1.9L1.8 1.5L-1.8 1.5Z" fill="#0a14ff" transform="translate(480.12 229.89) rotate(77.68)"/>
<polygon points="0.00,-2.30 0.57,-0.78 2.19,-0.71 0.92,0.30 1.35,1.86 0.00,0.97 -1.35,1.86 -0.92,0.30 -2.19,-0.71 -0.57,-0.78" fill="#000000" transform="translate(479.54 235.54)"/>
<rect x="-1.15" y="-1.15" width="2.3" height="2.3" fill="#74c80a" transform="translate(479.79 240.98) rotate(80.69)"/>
<rect x="-1.15" y="-1.15" width="2.3" height="2.3" fill="#ff0000" transform="translate(480.60 246.30) rotate(82.19)"/>
<polygon points="0.00,-2.30 0.57,-0.78 2.19,-0.71 0.92,0.30 1.35,1.86 0.00,0.97 -1.35,1.86 -0.92,0.30 -2.19,-0.71 -0.57,-0.78" fill="#fbb427" transform="translate(482.75 251.47)"/>
<polygon points="0.00,-2.30 0.57,-0.78 2.19,-0.71 0.92,0.30 1.35,1.86 0.00,0.97 -1.35,1.86 -0.92,0.30 -2.19,-0.71 -0.57,-0.78" fill="#fbb427" transform="translate(483.27 256.87)"/>
<polygon points="0.00,-2.30 0.57,-0.78 2.19,-0.71 0.92,0.30 1.35,1.86 0.00,0.97 -1.35,1.86 -0.92,0.30 -2.19,-0.71 -0.57,-0.78" fill="#000000" transform="translate(482.86 262.32)"/>
<rect x="-1.15" y="-1.15" width="2.3" height="2.3" fill="#74c80a" transform="translate(482.40 267.74) rotate(88.20)"/>
<polygon points="0.00,-2.30 0.57,-0.78 2.19,-0.71 0.92,0.30 1.35,1.86 0.00,0.97 -1.35,1.86 -0.92,0.30 -2.19,-0.71 -0.57,-0.78" fill="#000000" transform="translate(483.20 273.12)"/>
<polygon points="0.00,-2.30 0.57,-0.78 2.19,-0.71 0.92,0.30 1.35,1.86 0.00,0.97 -1.35,1.86 -0.92,0.30 -2.19,-0.71 -0.57,-0.78" fill="#000000" transform="translate(483.15 278.52)"/>
<rect x="-1.15" y="-1.15" width="2.3" height="2.3" fill="#74c80a" transform="translate(482.27 283.88) rotate(92.70)"/>
<rect x="-1.15" y="-1.15" width="2.3" height="2.3" fill="#ff0000" transform="translate(481.95 289.26) rotate(94.21)"/>
<rect x="-1.15" y="-1.15" width="2.3" height="2.3" fill="#ff0000" transform="translate(481.48 294.62) rotate(95.71)"/>
<path d="M0 -1.9L1.8 1.5L-1.8 1.5Z" fill="#0a14ff" transform="translate(483.26 300.27) rotate(97.21)"/>
<rect x="-1.15" y="-1.15" width="2.3" height="2.3" fill="#ff0000" transform="translate(480.13 305.30) rotate(98.71)"/>
<rect x="-1.15" y="-1.15" width="2.3" height="2.3" fill="#ff0000" transform="translate(479.25 310.61) rotate(100.21)"/>
<rect x="-1.15" y="-1.15" width="2.3" height="2.3" fill="#74c80a" transform="translate(478.22 315.89) rotate(101.72)"/>
<polygon points="0.00,-2.30 0.57,-0.78 2.19,-0.71 0.92,0.30 1.35,1.86 0.00,0.97 -1.35,1.86 -0.92,0.30 -2.19,-0.71 -0.57,-0.78" fill="#000000" transform="translate(477.74 321.31)"/>
<path d="M0 -1.9L1.8 1.5L-1.8 1.5Z" fill="#0a14ff" transform="translate(478.08 326.98) rotate(104.72)"/>
<rect x="-1.15" y="-1.15" width="2.3" height="2.3" fill="#74c80a" transform="translate(474.33 331.56) rotate(106.22)"/>
<polygon points="0.00,-2.30 0.57,-0.78 2.19,-0.71 0.92,0.30 1.35,1.86 0.00,0.97 -1.35,1.86 -0.92,0.30 -2.19,-0.71 -0.57,-0.78" fill="#fbb427" transform="translate(474.18 337.16)"/>
<rect x="-1.15" y="-1.15" width="2.3" height="2.3" fill="#ff0000" transform="translate(471.05 341.81) rotate(109.23)"/>
<rect x="-1.15" y="-1.15" width="2.3" height="2.3" fill="#ff0000" transform="translate(469.21 346.87) rotate(110.73)"/>
<path d="M0 -1.9L1.8 1.5L-1.8 1.5Z" fill="#0a14ff" transform="translate(469.46 352.78) rotate(112.23)"/>
<path d="M0 -1.9L1.8 1.5L-1.8 1.5Z" fill="#0a14ff" transform="translate(467.33 357.80) rotate(113.73)"/>
<polygon points="0.00,-2.30 0.57,-0.78 2.19,-0.71 0.92,0.30 1.35,1.86 0.00,0.97 -1.35,1.86 -0.92,0.30 -2.19,-0.71 -0.57,-0.78" fill="#fbb427" transform="translate(464.26 362.37)"/>
<polygon points="0.00,-2.30 0.57,-0.78 2.19,-0.71 0.92,0.30 1.35,1.86 0.00,0.97 -1.35,1.86 -0.92,0.30 -2.19,-0.71 -0.57,-0.78" fill="#fbb427" transform="translate(461.89 367.24)"/>
<rect x="-1.15" y="-1.15" width="2.3" height="2.3" fill="#ff0000" transform="translate(458.06 371.34) rotate(118.24)"/>
<rect x="-1.15" y="-1.15" width="2.3" height="2.3" fill="#ff0000" transform="translate(455.45 376.05) rotate(119.74)"/>
<polygon points="0.00,-2.30 0.57,-0.78 2.19,-0.71 0.92,0.30 1.35,1.86 0.00,0.97 -1.35,1.86 -0.92,0.30 -2.19,-0.71 -0.57,-0.78" fill="#000000" transform="translate(453.32 381.05)"/>
<rect x="-1.15" y="-1.15" width="2.3" height="2.3" fill="#74c80a" transform="translate(449.87 385.25) rotate(122.75)"/>
<polygon points="0.00,-2.30 0.57,-0.78 2.19,-0.71 0.92,0.30 1.35,1.86 0.00,0.97 -1.35,1.86 -0.92,0.30 -2.19,-0.71 -0.57,-0.78" fill="#000000" transform="translate(447.48 390.13)"/>
<polygon points="0.00,-2.30 0.57,-0.78 2.19,-0.71 0.92,0.30 1.35,1.86 0.00,0.97 -1.35,1.86 -0.92,0.30 -2.19,-0.71 -0.57,-0.78" fill="#000000" transform="translate(444.38 394.56)"/>
<polygon points="0.00,-2.30 0.57,-0.78 2.19,-0.71 0.92,0.30 1.35,1.86 0.00,0.97 -1.35,1.86 -0.92,0.30 -2.19,-0.71 -0.57,-0.78" fill="#fbb427" transform="translate(441.81 399.38)"/>
<rect x="-1.15" y="-1.15" width="2.3" height="2.3" fill="#ff0000" transform="translate(437.30 402.72) rotate(128.76)"/>
<rect x="-1.15" y="-1.15" width="2.3" height="2.3" fill="#ff0000" transform="translate(433.87 406.87) rotate(130.26)"/>
<rect x="-1.15" y="-1.15" width="2.3" height="2.3" fill="#74c80a" transform="translate(430.34 410.93) rotate(131.76)"/>
<polygon points="0.00,-2.30 0.57,-0.78 2.19,-0.71 0.92,0.30 1.35,1.86 0.00,0.97 -1.35,1.86 -0.92,0.30 -2.19,-0.71 -0.57,-0.78" fill="#000000" transform="translate(427.22 415.38)"/>
<rect x="-1.15" y="-1.15" width="2.3" height="2.3" fill="#ff0000" transform="translate(422.97 418.77) rotate(134.76)"/>
<rect x="-1.15" y="-1.15" width="2.3" height="2.3" fill="#ff0000" transform="translate(419.13 422.54) rotate(136.27)"/>
<path d="M0 -1.9L1.8 1.5L-1.8 1.5Z" fill="#0a14ff" transform="translate(416.80 427.99) rotate(137.77)"/>
<path d="M0 -1.9L1.8 1.5L-1.8 1.5Z" fill="#0a14ff" transform="translate(412.72 431.59) rotate(139.27)"/>
<path d="M0 -1.9L1.8 1.5L-1.8 1.5Z" fill="#0a14ff" transform="translate(408.55 435.09) rotate(140.77)"/>
<polygon points="0.00,-2.30 0.57,-0.78 2.19,-0.71 0.92,0.30 1.35,1.86 0.00,0.97 -1.35,1.86 -0.92,0.30 -2.19,-0.71 -0.57,-0.78" fill="#000000" transform="translate(403.25 437.14)"/>
<rect x="-1.15" y="-1.15" width="2.3" height="2.3" fill="#74c80a" transform="translate(398.52 439.82) rotate(143.78)"/>
<rect x="-1.15" y="-1.15" width="2.3" height="2.3" fill="#ff0000" transform="translate(394.14 442.94) rotate(145.28)"/>
<rect x="-1.15" y="-1.15" width="2.3" height="2.3" fill="#ff0000" transform="translate(389.67 445.95) rotate(146.78)"/>
<polygon points="0.00,-2.30 0.57,-0.78 2.19,-0.71 0.92,0.30 1.35,1.86 0.00,0.97 -1.35,1.86 -0.92,0.30 -2.19,-0.71 -0.57,-0.78" fill="#fbb427" transform="translate(385.92 450.12)"/>
<path d="M0 -1.9L1.8 1.5L-1.8 1.5Z" fill="#0a14ff" transform="translate(381.72 453.68) rotate(149.79)"/>
<path d="M0 -1.9L1.8 1.5L-1.8 1.5Z" fill="#0a14ff" transform="translate(376.98 456.36) rotate(151.29)"/>
<polygon points="0.00,-2.30 0.57,-0.78 2.19,-0.71 0.92,0.30 1.35,1.86 0.00,0.97 -1.35,1.86 -0.92,0.30 -2.19,-0.71 -0.57,-0.78" fill="#000000" transform="translate(371.40 457.40)"/>
<rect x="-1.15" y="-1.15" width="2.3" height="2.3" fill="#74c80a" transform="translate(366.26 459.18) rotate(154.29)"/>
<rect x="-1.15" y="-1.15" width="2.3" height="2.3" fill="#ff0000" transform="translate(361.38 461.45) rotate(155.79)"/>
<rect x="-1.15" y="-1.15" width="2.3" height="2.3" fill="#ff0000" transform="translate(356.44 463.59) rotate(157.30)"/>
<polygon points="0.00,-2.30 0.57,-0.78 2.19,-0.71 0.92,0.30 1.35,1.86 0.00,0.97 -1.35,1.86 -0.92,0.30 -2.19,-0.71 -0.57,-0.78" fill="#000000" transform="translate(351.70 466.26)"/>
<rect x="-1.15" y="-1.15" width="2.3" height="2.3" fill="#ff0000" transform="translate(346.40 467.48) rotate(160.30)"/>
<rect x="-1.15" y="-1.15" width="2.3" height="2.3" fill="#ff0000" transform="translate(341.31 469.23) rotate(161.80)"/>
<rect x="-1.15" y="-1.15" width="2.3" height="2.3" fill="#74c80a" transform="translate(336.18 470.85) rotate(163.30)"/>
<polygon points="0.00,-2.30 0.57,-0.78 2.19,-0.71 0.92,0.30 1.35,1.86 0.00,0.97 -1.35,1.86 -0.92,0.30 -2.19,-0.71 -0.57,-0.78" fill="#000000" transform="translate(331.19 473.00)"/>
<polygon points="0.00,-2.30 0.57,-0.78 2.19,-0.71 0.92,0.30 1.35,1.86 0.00,0.97 -1.35,1.86 -0.92,0.30 -2.19,-0.71 -0.57,-0.78" fill="#000000" transform="translate(325.96 474.35)"/>
<polygon points="0.00,-2.30 0.57,-0.78 2.19,-0.71 0.92,0.30 1.35,1.86 0.00,0.97 -1.35,1.86 -0.92,0.30 -2.19,-0.71 -0.57,-0.78" fill="#fbb427" transform="translate(320.86 476.34)"/>
<polygon points="0.00,-2.30 0.57,-0.78 2.19,-0.71 0.92,0.30 1.35,1.86 0.00,0.97 -1.35,1.86 -0.92,0.30 -2.19,-0.71 -0.57,-0.78" fill="#fbb427" transform="translate(315.55 477.41)"/>
<path d="M0 -1.9L1.8 1.5L-1.8 1.5Z" fill="#0a14ff" transform="translate(310.35 479.24) rotate(170.82)"/>
<polygon points="0.00,-2.30 0.57,-0.78 2.19,-0.71 0.92,0.30 1.35,1.86 0.00,0.97 -1.35,1.86 -0.92,0.30 -2.19,-0.71 -0.57,-0.78" fill="#000000" transform="translate(304.74 478.35)"/>
<rect x="-1.15" y="-1.15" width="2.3" height="2.3" fill="#74c80a" transform="translate(299.30 478.31) rotate(173.82)"/>
<rect x="-1.15" y="-1.15" width="2.3" height="2.3" fill="#ff0000" transform="translate(293.94 478.82) rotate(175.32)"/>
<rect x="-1.15" y="-1.15" width="2.3" height="2.3" fill="#ff0000" transform="translate(288.57 479.18) rotate(176.82)"/>
<polygon points="0.00,-2.30 0.57,-0.78 2.19,-0.71 0.92,0.30 1.35,1.86 0.00,0.97 -1.35,1.86 -0.92,0.30 -2.19,-0.71 -0.57,-0.78" fill="#fbb427" transform="translate(283.24 480.91)"/>
<path d="M0 -1.9L1.8 1.5L-1.8 1.5Z" fill="#0a14ff" transform="translate(277.82 481.90) rotate(179.83)"/>
<path d="M0 -1.9L1.8 1.5L-1.8 1.5Z" fill="#0a14ff" transform="translate(272.38 481.84) rotate(181.33)"/>
<rect x="-1.15" y="-1.15" width="2.3" height="2.3" fill="#ff0000" transform="translate(267.05 479.25) rotate(182.83)"/>
<rect x="-1.15" y="-1.15" width="2.3" height="2.3" fill="#ff0000" transform="translate(261.68 478.91) rotate(184.33)"/>
<polygon points="0.00,-2.30 0.57,-0.78 2.19,-0.71 0.92,0.30 1.35,1.86 0.00,0.97 -1.35,1.86 -0.92,0.30 -2.19,-0.71 -0.57,-0.78" fill="#000000" transform="translate(256.25 479.13)"/>
<rect x="-1.15" y="-1.15" width="2.3" height="2.3" fill="#74c80a" transform="translate(250.97 477.82) rotate(187.34)"/>
<polygon points="0.00,-2.30 0.57,-0.78 2.19,-0.71 0.92,0.30 1.35,1.86 0.00,0.97 -1.35,1.86 -0.92,0.30 -2.19,-0.71 -0.57,-0.78" fill="#000000" transform="translate(245.54 477.75)"/>
<polygon points="0.00,-2.30 0.57,-0.78 2.19,-0.71 0.92,0.30 1.35,1.86 0.00,0.97 -1.35,1.86 -0.92,0.30 -2.19,-0.71 -0.57,-0.78" fill="#000000" transform="translate(240.21 476.85)"/>
<polygon points="0.00,-2.30 0.57,-0.78 2.19,-0.71 0.92,0.30 1.35,1.86 0.00,0.97 -1.35,1.86 -0.92,0.30 -2.19,-0.71 -0.57,-0.78" fill="#000000" transform="translate(234.91 475.81)"/>
<polygon points="0.00,-2.30 0.57,-0.78 2.19,-0.71 0.92,0.30 1.35,1.86 0.00,0.97 -1.35,1.86 -0.92,0.30 -2.19,-0.71 -0.57,-0.78" fill="#000000" transform="translate(229.64 474.64)"/>
<rect x="-1.15" y="-1.15" width="2.3" height="2.3" fill="#ff0000" transform="translate(224.58 472.64) rotate(194.85)"/>
<rect x="-1.15" y="-1.15" width="2.3" height="2.3" fill="#ff0000" transform="translate(219.40 471.20) rotate(196.35)"/>
<polygon points="0.00,-2.30 0.57,-0.78 2.19,-0.71 0.92,0.30 1.35,1.86 0.00,0.97 -1.35,1.86 -0.92,0.30 -2.19,-0.71 -0.57,-0.78" fill="#fbb427" transform="translate(213.80 471.04)"/>
<polygon points="0.00,-2.30 0.57,-0.78 2.19,-0.71 0.92,0.30 1.35,1.86 0.00,0.97 -1.35,1.86 -0.92,0.30 -2.19,-0.71 -0.57,-0.78" fill="#fbb427" transform="translate(208.66 469.31)"/>
<polygon points="0.00,-2.30 0.57,-0.78 2.19,-0.71 0.92,0.30 1.35,1.86 0.00,0.97 -1.35,1.86 -0.92,0.30 -2.19,-0.71 -0.57,-0.78" fill="#000000" transform="translate(203.85 466.70)"/>
<polygon points="0.00,-2.30 0.57,-0.78 2.19,-0.71 0.92,0.30 1.35,1.86 0.00,0.97 -1.35,1.86 -0.92,0.30 -2.19,-0.71 -0.57,-0.78" fill="#000000" transform="translate(198.83 464.71)"/>
<polygon points="0.00,-2.30 0.57,-0.78 2.19,-0.71 0.92,0.30 1.35,1.86 0.00,0.97 -1.35,1.86 -0.92,0.30 -2.19,-0.71 -0.57,-0.78" fill="#000000" transform="translate(193.86 462.59)"/>
<rect x="-1.15" y="-1.15" width="2.3" height="2.3" fill="#74c80a" transform="translate(189.25 459.71) rotate(205.36)"/>
<polygon points="0.00,-2.30 0.57,-0.78 2.19,-0.71 0.92,0.30 1.35,1.86 0.00,0.97 -1.35,1.86 -0.92,0.30 -2.19,-0.71 -0.57,-0.78" fill="#000000" transform="translate(184.10 457.96)"/>
<polygon points="0.00,-2.30 0.57,-0.78 2.19,-0.71 0.92,0.30 1.35,1.86 0.00,0.97 -1.35,1.86 -0.92,0.30 -2.19,-0.71 -0.57,-0.78" fill="#000000" transform="translate(179.32 455.46)"/>
<polygon points="0.00,-2.30 0.57,-0.78 2.19,-0.71 0.92,0.30 1.35,1.86 0.00,0.97 -1.35,1.86 -0.92,0.30 -2.19,-0.71 -0.57,-0.78" fill="#fbb427" transform="translate(174.20 453.53)"/>
<rect x="-1.15" y="-1.15" width="2.3" height="2.3" fill="#74c80a" transform="translate(170.32 449.48) rotate(211.37)"/>
<polygon points="0.00,-2.30 0.57,-0.78 2.19,-0.71 0.92,0.30 1.35,1.86 0.00,0.97 -1.35,1.86 -0.92,0.30 -2.19,-0.71 -0.57,-0.78" fill="#fbb427" transform="translate(164.95 447.88)"/>
<rect x="-1.15" y="-1.15" width="2.3" height="2.3" fill="#ff0000" transform="translate(161.28 443.64) rotate(214.38)"/>
<rect x="-1.15" y="-1.15" width="2.3" height="2.3" fill="#ff0000" transform="translate(156.88 440.54) rotate(215.88)"/>
<path d="M0 -1.9L1.8 1.5L-1.8 1.5Z" fill="#0a14ff" transform="translate(151.10 439.24) rotate(217.38)"/>
<path d="M0 -1.9L1.8 1.5L-1.8 1.5Z" fill="#0a14ff" transform="translate(146.82 435.88) rotate(218.88)"/>
<path d="M0 -1.9L1.8 1.5L-1.8 1.5Z" fill="#0a14ff" transform="translate(142.62 432.40) rotate(220.39)"/>
<rect x="-1.15" y="-1.15" width="2.3" height="2.3" fill="#74c80a" transform="translate(140.12 427.03) rotate(221.89)"/>
<polygon points="0.00,-2.30 0.57,-0.78 2.19,-0.71 0.92,0.30 1.35,1.86 0.00,0.97 -1.35,1.86 -0.92,0.30 -2.19,-0.71 -0.57,-0.78" fill="#000000" transform="translate(135.68 423.90)"/>
<polygon points="0.00,-2.30 0.57,-0.78 2.19,-0.71 0.92,0.30 1.35,1.86 0.00,0.97 -1.35,1.86 -0.92,0.30 -2.19,-0.71 -0.57,-0.78" fill="#fbb427" transform="translate(131.24 420.70)"/>
<rect x="-1.15" y="-1.15" width="2.3" height="2.3" fill="#ff0000" transform="translate(128.54 415.79) rotate(226.39)"/>
<rect x="-1.15" y="-1.15" width="2.3" height="2.3" fill="#ff0000" transform="translate(124.88 411.85) rotate(227.90)"/>
<rect x="-1.15" y="-1.15" width="2.3" height="2.3" fill="#74c80a" transform="translate(121.32 407.81) rotate(229.40)"/>
<polygon points="0.00,-2.30 0.57,-0.78 2.19,-0.71 0.92,0.30 1.35,1.86 0.00,0.97 -1.35,1.86 -0.92,0.30 -2.19,-0.71 -0.57,-0.78" fill="#000000" transform="translate(117.33 404.12)"/>
<polygon points="0.00,-2.30 0.57,-0.78 2.19,-0.71 0.92,0.30 1.35,1.86 0.00,0.97 -1.35,1.86 -0.92,0.30 -2.19,-0.71 -0.57,-0.78" fill="#000000" transform="translate(113.98 399.88)"/>
<rect x="-1.15" y="-1.15" width="2.3" height="2.3" fill="#ff0000" transform="translate(111.31 395.15) rotate(233.91)"/>
<rect x="-1.15" y="-1.15" width="2.3" height="2.3" fill="#ff0000" transform="translate(108.19 390.76) rotate(235.41)"/>
<rect x="-1.15" y="-1.15" width="2.3" height="2.3" fill="#74c80a" transform="translate(105.20 386.29) rotate(236.91)"/>
<rect x="-1.15" y="-1.15" width="2.3" height="2.3" fill="#74c80a" transform="translate(102.32 381.74) rotate(238.41)"/>
<rect x="-1.15" y="-1.15" width="2.3" height="2.3" fill="#74c80a" transform="translate(99.56 377.12) rotate(239.91)"/>
<rect x="-1.15" y="-1.15" width="2.3" height="2.3" fill="#ff0000" transform="translate(96.92 372.42) rotate(241.42)"/>
<rect x="-1.15" y="-1.15" width="2.3" height="2.3" fill="#ff0000" transform="translate(94.41 367.66) rotate(242.92)"/>
<polygon points="0.00,-2.30 0.57,-0.78 2.19,-0.71 0.92,0.30 1.35,1.86 0.00,0.97 -1.35,1.86 -0.92,0.30 -2.19,-0.71 -0.57,-0.78" fill="#fbb427" transform="translate(90.67 363.49)"/>
<polygon points="0.00,-2.30 0.57,-0.78 2.19,-0.71 0.92,0.30 1.35,1.86 0.00,0.97 -1.35,1.86 -0.92,0.30 -2.19,-0.71 -0.57,-0.78" fill="#fbb427" transform="translate(88.39 358.57)"/>
<rect x="-1.15" y="-1.15" width="2.3" height="2.3" fill="#ff0000" transform="translate(87.63 353.01) rotate(247.42)"/>
<polygon points="0.00,-2.30 0.57,-0.78 2.19,-0.71 0.92,0.30 1.35,1.86 0.00,0.97 -1.35,1.86 -0.92,0.30 -2.19,-0.71 -0.57,-0.78" fill="#fbb427" transform="translate(84.23 348.56)"/>
<polygon points="0.00,-2.30 0.57,-0.78 2.19,-0.71 0.92,0.30 1.35,1.86 0.00,0.97 -1.35,1.86 -0.92,0.30 -2.19,-0.71 -0.57,-0.78" fill="#fbb427" transform="translate(82.35 343.47)"/>
<polygon points="0.00,-2.30 0.57,-0.78 2.19,-0.71 0.92,0.30 1.35,1.86 0.00,0.97 -1.35,1.86 -0.92,0.30 -2.19,-0.71 -0.57,-0.78" fill="#000000" transform="translate(81.36 338.09)"/>
<rect x="-1.15" y="-1.15" width="2.3" height="2.3" fill="#74c80a" transform="translate(80.42 332.74) rotate(253.43)"/>
<rect x="-1.15" y="-1.15" width="2.3" height="2.3" fill="#ff0000" transform="translate(78.96 327.56) rotate(254.94)"/>
<rect x="-1.15" y="-1.15" width="2.3" height="2.3" fill="#ff0000" transform="translate(77.62 322.34) rotate(256.44)"/>
<polygon points="0.00,-2.30 0.57,-0.78 2.19,-0.71 0.92,0.30 1.35,1.86 0.00,0.97 -1.35,1.86 -0.92,0.30 -2.19,-0.71 -0.57,-0.78" fill="#fbb427" transform="translate(74.96 317.41)"/>
<polygon points="0.00,-2.30 0.57,-0.78 2.19,-0.71 0.92,0.30 1.35,1.86 0.00,0.97 -1.35,1.86 -0.92,0.30 -2.19,-0.71 -0.57,-0.78" fill="#fbb427" transform="translate(73.90 312.09)"/>
<path d="M0 -1.9L1.8 1.5L-1.8 1.5Z" fill="#0a14ff" transform="translate(72.09 306.89) rotate(260.94)"/>
<path d="M0 -1.9L1.8 1.5L-1.8 1.5Z" fill="#0a14ff" transform="translate(71.30 301.50) rotate(262.45)"/>
<rect x="-1.15" y="-1.15" width="2.3" height="2.3" fill="#74c80a" transform="translate(73.04 295.84) rotate(263.95)"/>
<rect x="-1.15" y="-1.15" width="2.3" height="2.3" fill="#ff0000" transform="translate(72.55 290.48) rotate(265.45)"/>
<rect x="-1.15" y="-1.15" width="2.3" height="2.3" fill="#ff0000" transform="translate(72.19 285.11) rotate(266.95)"/>
<polygon points="0.00,-2.30 0.57,-0.78 2.19,-0.71 0.92,0.30 1.35,1.86 0.00,0.97 -1.35,1.86 -0.92,0.30 -2.19,-0.71 -0.57,-0.78" fill="#000000" transform="translate(71.27 279.75)"/>
<rect x="-1.15" y="-1.15" width="2.3" height="2.3" fill="#74c80a" transform="translate(71.90 274.35) rotate(269.96)"/>
<polygon points="0.00,-2.30 0.57,-0.78 2.19,-0.71 0.92,0.30 1.35,1.86 0.00,0.97 -1.35,1.86 -0.92,0.30 -2.19,-0.71 -0.57,-0.78" fill="#fbb427" transform="translate(70.47 268.93)"/>
<rect x="-1.15" y="-1.15" width="2.3" height="2.3" fill="#ff0000" transform="translate(72.17 263.59) rotate(272.96)"/>
<rect x="-1.15" y="-1.15" width="2.3" height="2.3" fill="#ff0000" transform="translate(72.52 258.22) rotate(274.46)"/>
<polygon points="0.00,-2.30 0.57,-0.78 2.19,-0.71 0.92,0.30 1.35,1.86 0.00,0.97 -1.35,1.86 -0.92,0.30 -2.19,-0.71 -0.57,-0.78" fill="#fbb427" transform="translate(71.52 252.71)"/>
<rect x="-1.15" y="-1.15" width="2.3" height="2.3" fill="#ff0000" transform="translate(73.64 247.52) rotate(277.47)"/>
<rect x="-1.15" y="-1.15" width="2.3" height="2.3" fill="#ff0000" transform="translate(74.41 242.19) rotate(278.97)"/>
<path d="M0 -1.9L1.8 1.5L-1.8 1.5Z" fill="#0a14ff" transform="translate(72.96 236.45) rotate(280.47)"/>
<path d="M0 -1.9L1.8 1.5L-1.8 1.5Z" fill="#0a14ff" transform="translate(74.02 231.11) rotate(281.97)"/>
<path d="M0 -1.9L1.8 1.5L-1.8 1.5Z" fill="#0a14ff" transform="translate(75.22 225.80) rotate(283.48)"/>
<path d="M0 -1.9L1.8 1.5L-1.8 1.5Z" fill="#0a14ff" transform="translate(76.56 220.52) rotate(284.98)"/>
<rect x="-1.15" y="-1.15" width="2.3" height="2.3" fill="#74c80a" transform="translate(80.33 215.96) rotate(286.48)"/>
<rect x="-1.15" y="-1.15" width="2.3" height="2.3" fill="#ff0000" transform="translate(81.93 210.82) rotate(287.98)"/>
<rect x="-1.15" y="-1.15" width="2.3" height="2.3" fill="#ff0000" transform="translate(83.66 205.72) rotate(289.48)"/>
<polygon points="0.00,-2.30 0.57,-0.78 2.19,-0.71 0.92,0.30 1.35,1.86 0.00,0.97 -1.35,1.86 -0.92,0.30 -2.19,-0.71 -0.57,-0.78" fill="#fbb427" transform="translate(84.12 200.13)"/>
<polygon points="0.00,-2.30 0.57,-0.78 2.19,-0.71 0.92,0.30 1.35,1.86 0.00,0.97 -1.35,1.86 -0.92,0.30 -2.19,-0.71 -0.57,-0.78" fill="#fbb427" transform="translate(86.13 195.10)"/>
<polygon points="0.00,-2.30 0.57,-0.78 2.19,-0.71 0.92,0.30 1.35,1.86 0.00,0.97 -1.35,1.86 -0.92,0.30 -2.19,-0.71 -0.57,-0.78" fill="#000000" transform="translate(89.00 190.44)"/>
<polygon points="0.00,-2.30 0.57,-0.78 2.19,-0.71 0.92,0.30 1.35,1.86 0.00,0.97 -1.35,1.86 -0.92,0.30 -2.19,-0.71 -0.57,-0.78" fill="#000000" transform="translate(91.26 185.54)"/>
<rect x="-1.15" y="-1.15" width="2.3" height="2.3" fill="#74c80a" transform="translate(94.27 181.01) rotate(297.00)"/>
<rect x="-1.15" y="-1.15" width="2.3" height="2.3" fill="#ff0000" transform="translate(96.78 176.25) rotate(298.50)"/>
<polygon points="0.00,-2.30 0.57,-0.78 2.19,-0.71 0.92,0.30 1.35,1.86 0.00,0.97 -1.35,1.86 -0.92,0.30 -2.19,-0.71 -0.57,-0.78" fill="#fbb427" transform="translate(98.11 170.80)"/>
</g>
<g font-family="'Liberation Serif', serif" font-weight="bold" fill="#222">
<text x="13" y="19.0" font-size="6.1">Tree scale: 1</text>
<path d="M47.5 17.2H69.5M47.5 16.2V18.2M69.5 16.2V18.2" stroke="#999" stroke-width="0.6"/>
<rect x="17.2" y="30.199999999999996" width="4.2" height="4.2" fill="#f01818" stroke="#4a1010" stroke-width="0.7"/>
<text x="26.3" y="34.9" font-size="8.5" font-style="italic">Triticum turgidum</text>
<rect x="17.2" y="40.3" width="4.2" height="4.2" fill="#52c048" stroke="#2a5a22" stroke-width="0.7"/>
<text x="26.3" y="45.0" font-size="8.5" font-style="italic">Oryza sativa</text>
<path d="M16.8 50.4L22.8 53.0L16.8 55.6Z" fill="#1e9cf4" stroke="#103a7a" stroke-width="0.7"/>
<text x="26.3" y="55.6" font-size="8.5" font-style="italic">Arabidopsis thaliana</text>
<polygon points="0.00,-4.60 1.14,-1.56 4.37,-1.42 1.84,0.60 2.70,3.72 0.00,1.93 -2.70,3.72 -1.84,0.60 -4.37,-1.42 -1.14,-1.56" fill="#000" transform="translate(19.3 63.5)"/>
<text x="26.3" y="65.8" font-size="8.5" font-style="italic">Zea mays</text>
<polygon points="0.00,-3.90 0.96,-1.33 3.71,-1.21 1.56,0.51 2.29,3.16 0.00,1.64 -2.29,3.16 -1.56,0.51 -3.71,-1.21 -0.96,-1.33" fill="#f9c820" stroke="#4a3a08" stroke-width="0.7" stroke-linejoin="round" transform="translate(19.3 75.3)"/>
<text x="26.3" y="77.6" font-size="8.5" font-style="italic">Hordeum vulgar</text>
</g>
<g font-family="'Liberation Serif', serif" text-anchor="middle">
<text x="135" y="19.5" font-size="9" fill="#c8693a">Group I</text>
<text x="133.6" y="28.5" font-size="6.5" font-weight="bold" fill="#1a1a1a" text-anchor="middle">(PIP1 proteins)</text>
<text x="465" y="48.5" font-size="8.7" font-weight="bold" fill="#1e9be8">Group II</text>
<text x="463.4" y="58.5" font-size="6.5" font-weight="bold" fill="#1a1a1a" text-anchor="middle">(PIP2 proteins)</text>
<text x="494.4" y="479.1" font-size="8.7" font-weight="bold" fill="#2db34d">Group III</text>
<text x="494.5" y="489.6" font-size="6.5" font-weight="bold" fill="#1a1a1a" text-anchor="middle">(TIP proteins)</text>
<text x="46.3" y="455.9" font-size="8.7" font-weight="bold" fill="#f9c320">Group IV</text>
<text x="23.6" y="466.8" font-size="6.5" font-weight="bold" fill="#1a1a1a" text-anchor="start">(IV-a: SIP proteins)</text>
<text x="23.6" y="475.4" font-size="6.5" font-weight="bold" fill="#1a1a1a" text-anchor="start">(IV-b: NIP proteins)</text>
</g>
</svg>
</body></html>
